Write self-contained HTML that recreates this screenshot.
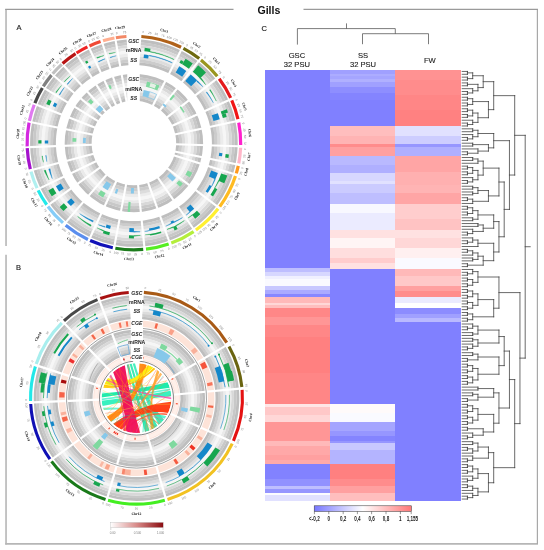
<!DOCTYPE html><html><head><meta charset="utf-8"><title>Gills</title><style>html,body{margin:0;padding:0;background:#fff}svg{display:block}text{font-family:"Liberation Sans",sans-serif;fill:#222}.chr{font-family:"Liberation Serif",serif;font-weight:bold;font-size:3.7px;text-anchor:middle;dominant-baseline:central;fill:#111}.tk{font-size:3px;text-anchor:middle;dominant-baseline:central;fill:#808080}.tl{font-size:5.1px;font-weight:bold;text-anchor:middle;fill:#222}.i{font-style:italic}.cl{font-size:7.6px;text-anchor:middle;fill:#1c1c1c;stroke:#1c1c1c;stroke-width:0.12px}.lg{font-family:"Liberation Sans",sans-serif;font-size:6.4px;font-weight:bold;text-anchor:middle;fill:#222}.pn{font-size:7.5px;fill:#1c1c1c;stroke:#1c1c1c;stroke-width:0.15px}</style></head><body>
<svg width="544" height="550" viewBox="0 0 544 550">
<defs><linearGradient id="lgB" x1="0" x2="1" y1="0" y2="0"><stop offset="0" stop-color="#fff"/><stop offset="0.5" stop-color="#d88a88"/><stop offset="1" stop-color="#8a0c10"/></linearGradient><linearGradient id="lgC" x1="0" x2="1" y1="0" y2="0"><stop offset="0" stop-color="#7878ff"/><stop offset="0.5" stop-color="#fff"/><stop offset="1" stop-color="#ff7878"/></linearGradient></defs>
<rect width="544" height="550" fill="#fff"/>
<path d="M6.05 9V246M6.05 254.8V544.6" fill="none" stroke="#c2c2c2" stroke-width="1.9"/>
<path d="M5.2 543.8H538" fill="none" stroke="#b6b6b6" stroke-width="1.7"/>
<path d="M537.4 9.4V544" fill="none" stroke="#a8a8a8" stroke-width="1.2"/>
<path d="M5.2 9.45H233.5M303.5 9.45H538" fill="none" stroke="#9a9a9a" stroke-width="1.3"/>
<text x="257.4" y="13.8" style="font-size:10.6px;font-weight:bold;fill:#111">Gills</text>
<text class="pn" x="16.6" y="29.8">A</text><text class="pn" x="16" y="270.3">B</text><text class="pn" x="261.4" y="30.9">C</text>
<g>
<path d="M141.14 39.5A103.8 103.8 0 1 1 126.66 39.5L126.87 42.51A100.78 100.78 0 1 0 140.93 42.51Z" fill="#bebebe"/>
<path d="M140.94 42.36A100.93 100.93 0 1 1 126.86 42.36L127.07 45.37A97.92 97.92 0 1 0 140.73 45.37Z" fill="#c8c8c8"/>
<path d="M140.74 45.22A98.07 98.07 0 1 1 127.06 45.22L127.27 48.23A95.05 95.05 0 1 0 140.53 48.23Z" fill="#d8d8d8"/>
<path d="M140.54 48.08A95.2 95.2 0 1 1 127.26 48.08L127.47 51.09A92.18 92.18 0 1 0 140.33 51.09Z" fill="#eaeaea"/>
<path d="M140.34 50.94A92.33 92.33 0 1 1 127.46 50.94L127.67 53.95A89.32 89.32 0 1 0 140.13 53.95Z" fill="#f6f6f6"/>
<path d="M140.14 53.8A89.47 89.47 0 1 1 127.66 53.8L127.87 56.81A86.45 86.45 0 1 0 139.93 56.81Z" fill="#ececec"/>
<path d="M139.94 56.66A86.6 86.6 0 1 1 127.86 56.66L128.07 59.67A83.58 83.58 0 1 0 139.73 59.67Z" fill="#dcdcdc"/>
<path d="M139.74 59.52A83.73 83.73 0 1 1 128.06 59.52L128.27 62.53A80.72 80.72 0 1 0 139.53 62.53Z" fill="#cccccc"/>
<path d="M139.54 62.38A80.87 80.87 0 1 1 128.26 62.38L128.46 65.24A78 78 0 1 0 139.34 65.24Z" fill="#bebebe"/>
<path d="M138.73 74.02A69.2 69.2 0 1 1 129.07 74.02L129.29 77.15A66.06 66.06 0 1 0 138.51 77.15Z" fill="#bebebe"/>
<path d="M138.52 77A66.21 66.21 0 1 1 129.28 77L129.5 80.13A63.07 63.07 0 1 0 138.3 80.13Z" fill="#c8c8c8"/>
<path d="M138.31 79.98A63.22 63.22 0 1 1 129.49 79.98L129.71 83.11A60.08 60.08 0 1 0 138.09 83.11Z" fill="#d8d8d8"/>
<path d="M138.1 82.96A60.23 60.23 0 1 1 129.7 82.96L129.92 86.09A57.09 57.09 0 1 0 137.88 86.09Z" fill="#eaeaea"/>
<path d="M137.89 85.95A57.24 57.24 0 1 1 129.91 85.95L130.13 89.08A54.11 54.11 0 1 0 137.67 89.08Z" fill="#f6f6f6"/>
<path d="M137.68 88.93A54.26 54.26 0 1 1 130.12 88.93L130.33 92.06A51.12 51.12 0 1 0 137.47 92.06Z" fill="#ececec"/>
<path d="M137.48 91.91A51.27 51.27 0 1 1 130.32 91.91L130.54 95.04A48.13 48.13 0 1 0 137.26 95.04Z" fill="#dcdcdc"/>
<path d="M137.27 94.89A48.28 48.28 0 1 1 130.53 94.89L130.75 98.02A45.14 45.14 0 1 0 137.05 98.02Z" fill="#cccccc"/>
<path d="M137.06 97.87A45.29 45.29 0 1 1 130.74 97.87L130.95 100.85A42.3 42.3 0 1 0 136.85 100.85Z" fill="#bebebe"/>
<path d="M141.46 34.91A108.4 108.4 0 0 1 181.76 45.79L180.35 48.66A105.2 105.2 0 0 0 141.24 38.11Z" fill="#b0621a"/>
<path d="M184.12 46.99A108.4 108.4 0 0 1 200.19 57.28L198.23 59.81A105.2 105.2 0 0 0 182.64 49.82Z" fill="#6e6a10"/>
<path d="M201.97 58.69A108.4 108.4 0 0 1 218.5 75.27L216 77.27A105.2 105.2 0 0 0 199.96 61.18Z" fill="#9a9620"/>
<path d="M220.47 77.81A108.4 108.4 0 0 1 232.14 97.24L229.24 98.59A105.2 105.2 0 0 0 217.92 79.74Z" fill="#e41a1c"/>
<path d="M233.23 99.65A108.4 108.4 0 0 1 239.52 118.67L236.4 119.39A105.2 105.2 0 0 0 230.3 100.93Z" fill="#f01515"/>
<path d="M240.31 122.37A108.4 108.4 0 0 1 242.28 144.94L239.08 144.89A105.2 105.2 0 0 0 237.17 122.98Z" fill="#ff22cc"/>
<path d="M242.2 147.78A108.4 108.4 0 0 1 240.31 163.73L237.17 163.12A105.2 105.2 0 0 0 239 147.64Z" fill="#ffb6c8"/>
<path d="M239.81 166.14A108.4 108.4 0 0 1 237.84 173.84L234.77 172.93A105.2 105.2 0 0 0 236.69 165.46Z" fill="#ff9a1e"/>
<path d="M236.99 176.55A108.4 108.4 0 0 1 221.04 207.53L218.47 205.63A105.2 105.2 0 0 0 233.95 175.56Z" fill="#ffbb22"/>
<path d="M219.32 209.79A108.4 108.4 0 0 1 196.85 231.3L194.99 228.69A105.2 105.2 0 0 0 216.8 207.82Z" fill="#fff030"/>
<path d="M194.52 232.92A108.4 108.4 0 0 1 171.86 244.59L170.74 241.59A105.2 105.2 0 0 0 192.73 230.26Z" fill="#b4ee3c"/>
<path d="M169.19 245.54A108.4 108.4 0 0 1 146.17 250.75L145.81 247.57A105.2 105.2 0 0 0 168.15 242.52Z" fill="#55ee22"/>
<path d="M143.35 251.04A108.4 108.4 0 0 1 115.08 249.8L115.63 246.65A105.2 105.2 0 0 0 143.07 247.85Z" fill="#1c7c1c"/>
<path d="M112.47 249.31A108.4 108.4 0 0 1 89.46 241.92L90.78 239.01A105.2 105.2 0 0 0 113.11 246.17Z" fill="#1212b8"/>
<path d="M87.23 240.89A108.4 108.4 0 0 1 64.66 226.45L66.7 223.99A105.2 105.2 0 0 0 88.61 238Z" fill="#5a8eee"/>
<path d="M61.93 224.11A108.4 108.4 0 0 1 46.65 207.38L49.23 205.48A105.2 105.2 0 0 0 64.05 221.72Z" fill="#86cdf8"/>
<path d="M45.43 205.69A108.4 108.4 0 0 1 36.72 191.08L39.59 189.66A105.2 105.2 0 0 0 48.04 203.84Z" fill="#22eaea"/>
<path d="M35.66 188.86A108.4 108.4 0 0 1 29.44 172.02L32.53 171.16A105.2 105.2 0 0 0 38.56 187.51Z" fill="#b0f0f0"/>
<path d="M28.77 169.46A108.4 108.4 0 0 1 25.62 148.16L28.82 148.01A105.2 105.2 0 0 0 31.87 168.68Z" fill="#a412cc"/>
<path d="M25.55 146.45A108.4 108.4 0 0 1 27.49 122.37L30.63 122.98A105.2 105.2 0 0 0 28.75 146.35Z" fill="#d428e0"/>
<path d="M27.87 120.51A108.4 108.4 0 0 1 32.7 104.2L35.69 105.35A105.2 105.2 0 0 0 31 121.18Z" fill="#e07af0"/>
<path d="M33.39 102.44A108.4 108.4 0 0 1 40.98 87.22L43.73 88.87A105.2 105.2 0 0 0 36.36 103.64Z" fill="#484848"/>
<path d="M41.97 85.61A108.4 108.4 0 0 1 50.26 74.1L52.73 76.13A105.2 105.2 0 0 0 44.69 87.3Z" fill="#808080"/>
<path d="M51.47 72.65A108.4 108.4 0 0 1 60.67 63.13L62.83 65.49A105.2 105.2 0 0 0 53.91 74.73Z" fill="#c0c0c0"/>
<path d="M61.51 62.37A108.4 108.4 0 0 1 74.7 52.24L76.45 54.92A105.2 105.2 0 0 0 63.64 64.75Z" fill="#b81414"/>
<path d="M75.66 51.63A108.4 108.4 0 0 1 86.72 45.46L88.11 48.34A105.2 105.2 0 0 0 77.38 54.33Z" fill="#ee2424"/>
<path d="M88.78 44.49A108.4 108.4 0 0 1 100.04 40.07L101.04 43.11A105.2 105.2 0 0 0 90.11 47.4Z" fill="#f04a36"/>
<path d="M102.57 39.28A108.4 108.4 0 0 1 114.15 36.47L114.73 39.61A105.2 105.2 0 0 0 103.49 42.34Z" fill="#ffae90"/>
<path d="M115.64 36.2A108.4 108.4 0 0 1 126.34 34.91L126.56 38.11A105.2 105.2 0 0 0 116.17 39.35Z" fill="#f28866"/>
<path d="M152.68 106.04L181.22 49.77" stroke="#fff" stroke-width="2.1"/>
<path d="M159.62 110.48L198.73 60.96" stroke="#fff" stroke-width="2.1"/>
<path d="M166.67 117.59L216.49 78.87" stroke="#fff" stroke-width="2.1"/>
<path d="M171.72 125.97L229.23 100.01" stroke="#fff" stroke-width="2.1"/>
<path d="M174.49 134.42L236.21 121.3" stroke="#fff" stroke-width="2.1"/>
<path d="M175.38 144.32L238.45 146.24" stroke="#fff" stroke-width="2.1"/>
<path d="M174.55 151.43L236.35 164.17" stroke="#fff" stroke-width="2.1"/>
<path d="M173.53 155.36L233.8 174.07" stroke="#fff" stroke-width="2.1"/>
<path d="M166.93 168.17L217.16 206.36" stroke="#fff" stroke-width="2.1"/>
<path d="M157.55 177.15L193.52 228.99" stroke="#fff" stroke-width="2.1"/>
<path d="M147.92 182.11L169.25 241.5" stroke="#fff" stroke-width="2.1"/>
<path d="M138.06 184.34L144.38 247.12" stroke="#fff" stroke-width="2.1"/>
<path d="M126.19 183.83L114.48 245.83" stroke="#fff" stroke-width="2.1"/>
<path d="M116.46 180.71L89.94 237.97" stroke="#fff" stroke-width="2.1"/>
<path d="M106.87 174.54L65.76 222.41" stroke="#fff" stroke-width="2.1"/>
<path d="M100.26 167.36L49.12 204.31" stroke="#fff" stroke-width="2.1"/>
<path d="M96.49 161.01L39.61 188.33" stroke="#fff" stroke-width="2.1"/>
<path d="M93.78 153.65L32.77 169.77" stroke="#fff" stroke-width="2.1"/>
<path d="M92.43 144.68L29.38 147.16" stroke="#fff" stroke-width="2.1"/>
<path d="M93.23 134.78L31.4 122.2" stroke="#fff" stroke-width="2.1"/>
<path d="M95.29 127.84L36.58 104.71" stroke="#fff" stroke-width="2.1"/>
<path d="M98.52 121.37L44.71 88.4" stroke="#fff" stroke-width="2.1"/>
<path d="M102.11 116.37L53.77 75.81" stroke="#fff" stroke-width="2.1"/>
<path d="M106.02 112.31L63.64 65.56" stroke="#fff" stroke-width="2.1"/>
<path d="M111.42 108.17L77.24 55.13" stroke="#fff" stroke-width="2.1"/>
<path d="M116.23 105.5L89.36 48.41" stroke="#fff" stroke-width="2.1"/>
<path d="M121.42 103.47L102.45 43.29" stroke="#fff" stroke-width="2.1"/>
<path d="M126.62 102.19L115.56 40.07" stroke="#fff" stroke-width="2.1"/>
<path d="M144.74 47.87A95.8 95.8 0 0 1 150.54 48.71L149.95 52.05A92.4 92.4 0 0 0 144.36 51.24Z" fill="#17a64f"/>
<path d="M180.88 60.02A95.4 95.4 0 0 1 183.75 61.71L182.18 64.27A92.4 92.4 0 0 0 179.4 62.63Z" fill="#17a64f"/>
<path d="M185.58 58.72A98.9 98.9 0 0 1 192.73 63.55L188.86 68.77A92.4 92.4 0 0 0 182.18 64.27Z" fill="#17a64f"/>
<path d="M198.22 65.31A100.9 100.9 0 0 1 205.99 72.45L199.92 78.4A92.4 92.4 0 0 0 192.8 71.85Z" fill="#17a64f"/>
<path d="M226.84 109.22A98.9 98.9 0 0 1 227.96 112.49L221.78 114.5A92.4 92.4 0 0 0 220.73 111.45Z" fill="#17a64f"/>
<path d="M225.58 113.26A96.4 96.4 0 0 1 226.7 116.96L222.85 118.05A92.4 92.4 0 0 0 221.78 114.5Z" fill="#17a64f"/>
<path d="M228.93 154.38A95.7 95.7 0 0 1 228.42 158.02L225.16 157.5A92.4 92.4 0 0 0 225.65 153.99Z" fill="#17a64f"/>
<path d="M227.3 175.57A98.9 98.9 0 0 1 224.25 183.28L218.31 180.63A92.4 92.4 0 0 0 221.16 173.44Z" fill="#17a64f"/>
<path d="M217.34 189.3A95.4 95.4 0 0 1 212.99 196.4L210.5 194.72A92.4 92.4 0 0 0 214.71 187.85Z" fill="#17a64f"/>
<path d="M200.33 214.28A97.4 97.4 0 0 1 195.2 218.74L192.05 214.86A92.4 92.4 0 0 0 196.92 210.63Z" fill="#17a64f"/>
<path d="M177.66 228.94A96.4 96.4 0 0 1 174.64 230.42L172.95 226.79A92.4 92.4 0 0 0 175.85 225.38Z" fill="#17a64f"/>
<path d="M161.38 232.94A94 94 0 0 1 150.22 235.62L149.95 234.05A92.4 92.4 0 0 0 160.92 231.41Z" fill="#17a64f"/>
<path d="M133.9 238.45A95.4 95.4 0 0 1 128.91 238.32L129.06 235.32A92.4 92.4 0 0 0 133.9 235.45Z" fill="#17a64f"/>
<path d="M109.21 235.2A95.4 95.4 0 0 1 102.84 233.25L103.82 230.42A92.4 92.4 0 0 0 109.99 232.3Z" fill="#17a64f"/>
<path d="M63.48 211.06A97.9 97.9 0 0 1 59.68 206.89L63.85 203.3A92.4 92.4 0 0 0 67.43 207.24Z" fill="#17a64f"/>
<path d="M51.79 196.37A97.9 97.9 0 0 1 48.27 190.51L53.09 187.85A92.4 92.4 0 0 0 56.41 193.37Z" fill="#17a64f"/>
<path d="M38.3 143.55A95.6 95.6 0 0 1 38.34 140.21L41.54 140.31A92.4 92.4 0 0 0 41.5 143.53Z" fill="#17a64f"/>
<path d="M46.29 104.04A95.9 95.9 0 0 1 48.45 99.51L51.57 101.1A92.4 92.4 0 0 0 49.49 105.47Z" fill="#17a64f"/>
<path d="M85.02 61.7A94.9 94.9 0 0 1 87.17 60.45L88.4 62.63A92.4 92.4 0 0 0 86.31 63.85Z" fill="#17a64f"/>
<path d="M143.99 54.52A89.1 89.1 0 0 1 148.76 55.2L148.19 58.55A85.7 85.7 0 0 0 143.6 57.9Z" fill="#1487c9"/>
<path d="M179.26 66.36A89.1 89.1 0 0 1 186.27 70.97L182.16 76.63A82.1 82.1 0 0 0 175.69 72.38Z" fill="#1487c9"/>
<path d="M190.69 74.4A89.1 89.1 0 0 1 197.12 80.27L191.09 86.26A80.6 80.6 0 0 0 185.28 80.95Z" fill="#1487c9"/>
<path d="M217.84 113.16A89.1 89.1 0 0 1 219.76 119.24L213.5 120.98A82.6 82.6 0 0 0 211.71 115.34Z" fill="#1487c9"/>
<path d="M222.43 153.14A89.1 89.1 0 0 1 222 156.37L218.83 155.9A85.9 85.9 0 0 0 219.25 152.77Z" fill="#1487c9"/>
<path d="M217.84 172.94A89.1 89.1 0 0 1 215.3 179.29L208.9 176.44A82.1 82.1 0 0 0 211.24 170.59Z" fill="#1487c9"/>
<path d="M211.83 186.25A89.1 89.1 0 0 1 207.77 192.87L205.61 191.42A86.5 86.5 0 0 0 209.55 184.99Z" fill="#1487c9"/>
<path d="M194.21 208.64A89.1 89.1 0 0 1 189.97 212.29L186.51 208.02A83.6 83.6 0 0 0 190.49 204.59Z" fill="#1487c9"/>
<path d="M174.35 222.44A89.1 89.1 0 0 1 171.56 223.8L170.5 221.54A86.6 86.6 0 0 0 173.22 220.21Z" fill="#1487c9"/>
<path d="M159.95 228.26A89.1 89.1 0 0 1 149.37 230.8L148.96 228.43A86.7 86.7 0 0 0 159.25 225.96Z" fill="#1487c9"/>
<path d="M133.9 232.15A89.1 89.1 0 0 1 129.24 232.03L129.45 228.03A85.1 85.1 0 0 0 133.9 228.15Z" fill="#1487c9"/>
<path d="M110.09 228.91A89.1 89.1 0 0 1 105.63 227.55L106.64 224.51A85.9 85.9 0 0 0 110.94 225.83Z" fill="#1487c9"/>
<path d="M70.9 206.05A89.1 89.1 0 0 1 67.07 201.97L71.19 198.34A83.6 83.6 0 0 0 74.79 202.16Z" fill="#1487c9"/>
<path d="M59.17 191.58A89.1 89.1 0 0 1 55.97 186.25L60.78 183.58A83.6 83.6 0 0 0 63.79 188.58Z" fill="#1487c9"/>
<path d="M44.8 143.52A89.1 89.1 0 0 1 44.84 140.41L48.24 140.51A85.7 85.7 0 0 0 48.2 143.5Z" fill="#1487c9"/>
<path d="M52.82 106.1A89.1 89.1 0 0 1 54.51 102.6L57.18 103.96A86.1 86.1 0 0 0 55.55 107.34Z" fill="#1487c9"/>
<path d="M88.01 66.68A89.1 89.1 0 0 1 90.03 65.5L91.26 67.68A86.6 86.6 0 0 0 89.3 68.82Z" fill="#1487c9"/>
<path d="M149.95 52.05L152.4 52.52L154.84 53.05L157.27 53.65L159.68 54.32L162.07 55.05L164.44 55.84L166.79 56.7L169.11 57.62L171.41 58.61L173.68 59.65L173.85 59.29L171.58 58.22L169.28 57.21L166.95 56.27L164.6 55.39L162.22 54.58L159.82 53.83L157.4 53.14L154.97 52.52L152.51 51.97L150.05 51.48Z" fill="#17a64f" stroke="#17a64f" stroke-width="0.3"/>
<path d="M149.37 55.3L151.74 55.75L154.09 56.27L156.43 56.85L158.76 57.49L161.06 58.19L163.35 58.96L165.61 59.78L167.85 60.67L170.07 61.62L172.26 62.63L172.08 63L169.9 62.01L167.69 61.08L165.45 60.21L163.19 59.41L160.91 58.66L158.61 57.98L156.3 57.36L153.97 56.8L151.63 56.31L149.27 55.88Z" fill="#1487c9" stroke="#1487c9" stroke-width="0.3"/>
<path d="M199.92 78.4L201.84 80.43L203.71 82.51L205.5 84.65L205.61 84.57L204.09 82.18L202.49 79.83L200.82 77.52Z" fill="#17a64f" stroke="#17a64f" stroke-width="0.3"/>
<path d="M197.56 80.71L199.42 82.66L201.21 84.67L202.95 86.74L202.84 86.82L200.83 85.01L198.77 83.26L196.66 81.59Z" fill="#1487c9" stroke="#1487c9" stroke-width="0.3"/>
<path d="M209.59 90.05L211.04 92.19L212.43 94.36L213.76 96.57L215.03 98.82L216.23 101.1L216.31 101.06L215.23 98.71L214.09 96.38L212.87 94.08L211.6 91.82L210.25 89.59Z" fill="#17a64f" stroke="#17a64f" stroke-width="0.3"/>
<path d="M206.89 91.94L208.28 94L209.63 96.1L210.91 98.23L212.13 100.4L213.29 102.6L213.21 102.64L211.92 100.51L210.58 98.42L209.18 96.37L207.73 94.37L206.22 92.41Z" fill="#1487c9" stroke="#1487c9" stroke-width="0.3"/>
<path d="M218.31 180.63L217.18 183.07L215.98 185.48L214.71 187.85L214.87 187.93L216.33 185.66L217.72 183.33L219.05 180.96Z" fill="#17a64f" stroke="#17a64f" stroke-width="0.3"/>
<path d="M215.3 179.29L214.21 181.64L213.05 183.96L211.83 186.25L211.67 186.16L212.71 183.78L213.67 181.38L214.56 178.96Z" fill="#1487c9" stroke="#1487c9" stroke-width="0.3"/>
<path d="M192.05 214.86L190.15 216.36L188.21 217.8L188.26 217.88L190.36 216.62L192.42 215.31Z" fill="#17a64f" stroke="#17a64f" stroke-width="0.3"/>
<path d="M189.97 212.29L188.14 213.74L186.27 215.13L186.22 215.06L187.94 213.47L189.6 211.84Z" fill="#1487c9" stroke="#1487c9" stroke-width="0.3"/>
<path d="M184.22 220.54L182.18 221.83L180.1 223.07L177.99 224.25L175.85 225.38L176.22 226.1L178.3 224.83L180.35 223.5L182.36 222.12L184.32 220.69Z" fill="#17a64f" stroke="#17a64f" stroke-width="0.3"/>
<path d="M182.43 217.78L180.45 219.02L178.45 220.21L176.41 221.35L174.35 222.44L173.98 221.72L176.1 220.78L178.2 219.78L180.28 218.73L182.33 217.62Z" fill="#1487c9" stroke="#1487c9" stroke-width="0.3"/>
<path d="M172.95 226.79L170 228.1L167.01 229.31L167.05 229.4L170.18 228.52L173.29 227.53Z" fill="#17a64f" stroke="#17a64f" stroke-width="0.3"/>
<path d="M171.56 223.8L168.71 225.07L165.83 226.23L165.8 226.15L168.54 224.65L171.21 223.07Z" fill="#1487c9" stroke="#1487c9" stroke-width="0.3"/>
<path d="M149.95 234.05L147.56 234.44L145.16 234.76L145.17 234.85L147.59 234.66L150.01 234.4Z" fill="#17a64f" stroke="#17a64f" stroke-width="0.3"/>
<path d="M149.37 230.8L147.07 231.17L144.76 231.49L144.75 231.4L147.04 230.95L149.31 230.44Z" fill="#1487c9" stroke="#1487c9" stroke-width="0.3"/>
<path d="M140.35 235.22L137.12 235.39L133.9 235.45L133.9 236.26L137.14 235.89L140.36 235.4Z" fill="#17a64f" stroke="#17a64f" stroke-width="0.3"/>
<path d="M140.12 231.93L137.01 232.1L133.9 232.15L133.9 231.34L136.99 231.6L140.1 231.75Z" fill="#1487c9" stroke="#1487c9" stroke-width="0.3"/>
<path d="M103.82 230.42L101.54 229.6L99.29 228.72L97.06 227.79L97.02 227.87L99.16 229.03L101.34 230.13L103.55 231.18Z" fill="#17a64f" stroke="#17a64f" stroke-width="0.3"/>
<path d="M104.89 227.3L102.7 226.51L100.52 225.66L98.37 224.76L98.41 224.68L100.65 225.36L102.9 225.97L105.16 226.53Z" fill="#1487c9" stroke="#1487c9" stroke-width="0.3"/>
<path d="M91.23 225.01L88.87 223.73L86.54 222.39L84.25 220.98L82.01 219.5L79.81 217.96L77.65 216.36L77.6 216.43L79.62 218.22L81.7 219.96L83.83 221.64L86.02 223.27L88.26 224.83L90.55 226.33Z" fill="#17a64f" stroke="#17a64f" stroke-width="0.3"/>
<path d="M92.76 222.08L90.48 220.85L88.23 219.56L86.03 218.2L83.86 216.77L81.74 215.29L79.66 213.74L79.71 213.67L81.93 215.02L84.17 216.31L86.45 217.53L88.76 218.68L91.09 219.76L93.44 220.77Z" fill="#1487c9" stroke="#1487c9" stroke-width="0.3"/>
<path d="M49.16 179.89L48.15 177.48L47.21 175.03L46.34 172.56L45.54 170.07L44.07 170.51L45.23 172.93L46.45 175.31L47.74 177.64L49.08 179.93Z" fill="#17a64f" stroke="#17a64f" stroke-width="0.3"/>
<path d="M52.19 178.58L51.22 176.25L50.31 173.89L49.47 171.51L48.69 169.1L50.16 168.65L50.57 171.13L51.07 173.61L51.63 176.08L52.27 178.54Z" fill="#1487c9" stroke="#1487c9" stroke-width="0.3"/>
<path d="M43.52 162.26L42.9 159.1L42.4 155.91L41.91 155.98L42.62 159.15L43.43 162.28Z" fill="#17a64f" stroke="#17a64f" stroke-width="0.3"/>
<path d="M46.75 161.57L46.15 158.52L45.67 155.45L46.16 155.38L46.44 158.47L46.84 161.56Z" fill="#1487c9" stroke="#1487c9" stroke-width="0.3"/>
<path d="M56.41 92.73L58.06 90.27L59.78 87.87L61.59 85.53L61.52 85.47L59.52 87.68L57.59 89.95L55.73 92.28Z" fill="#17a64f" stroke="#17a64f" stroke-width="0.3"/>
<path d="M59.17 94.52L60.77 92.16L62.43 89.84L64.17 87.58L64.24 87.64L62.7 90.04L61.23 92.48L59.85 94.96Z" fill="#1487c9" stroke="#1487c9" stroke-width="0.3"/>
<path d="M64.7 81.82L66.51 79.84L68.37 77.9L70.3 76.03L70.23 75.96L68.19 77.72L66.2 79.55L64.26 81.44Z" fill="#17a64f" stroke="#17a64f" stroke-width="0.3"/>
<path d="M67.17 84.01L68.91 82.09L70.71 80.23L72.57 78.42L72.63 78.48L70.89 80.41L69.22 82.38L67.61 84.4Z" fill="#1487c9" stroke="#1487c9" stroke-width="0.3"/>
<path d="M97.06 58.31L99.29 57.38L101.54 56.5L103.82 55.68L103.77 55.56L101.41 56.16L99.07 56.84L96.73 57.57Z" fill="#17a64f" stroke="#17a64f" stroke-width="0.3"/>
<path d="M98.37 61.34L100.52 60.44L102.7 59.59L104.89 58.8L104.94 58.93L102.82 59.93L100.74 60.98L98.69 62.08Z" fill="#1487c9" stroke="#1487c9" stroke-width="0.3"/>
<path d="M109.21 54.01L112.33 53.2L115.48 52.5L115.46 52.42L112.26 52.9L109.06 53.49Z" fill="#17a64f" stroke="#17a64f" stroke-width="0.3"/>
<path d="M110.09 57.19L113.1 56.41L116.14 55.74L116.15 55.83L113.17 56.72L110.23 57.71Z" fill="#1487c9" stroke="#1487c9" stroke-width="0.3"/>
<path d="M147 81.43A63 63 0 0 1 159.52 85.5L157.29 90.52A57.5 57.5 0 0 0 145.85 86.81Z" fill="#7fd99f"/>
<path d="M173.23 94.48A62.5 62.5 0 0 1 174.9 95.88L170.97 100.41A56.5 56.5 0 0 0 169.46 99.14Z" fill="#7fd99f"/>
<path d="M180.87 106.36A59.6 59.6 0 0 1 184.72 111.91L183.35 112.75A58 58 0 0 0 179.6 107.34Z" fill="#7fd99f"/>
<path d="M192.26 172.79A65.5 65.5 0 0 1 189.75 177.27L185.48 174.66A60.5 60.5 0 0 0 187.81 170.52Z" fill="#7fd99f"/>
<path d="M182.9 183.44A63.5 63.5 0 0 1 179.96 186.76L176.33 183.32A58.5 58.5 0 0 0 179.04 180.26Z" fill="#7fd99f"/>
<path d="M130.05 211.94A69 69 0 0 1 127.65 211.77L128.55 201.81A59 59 0 0 0 130.61 201.96Z" fill="#7fd99f"/>
<path d="M103.12 197.45A62.5 62.5 0 0 1 98.05 194.25L100.92 190.15A57.5 57.5 0 0 0 105.59 193.1Z" fill="#7fd99f"/>
<path d="M72.42 141.65A61.5 61.5 0 0 1 72.62 137.9L76.4 138.22A57.7 57.7 0 0 0 76.21 141.74Z" fill="#7fd99f"/>
<path d="M87.97 101.7A61.8 61.8 0 0 1 90.58 98.97L93.6 102.04A57.5 57.5 0 0 0 91.17 104.57Z" fill="#7fd99f"/>
<path d="M108.28 85.5A63 63 0 0 1 110.3 84.64L111.8 88.35A59 59 0 0 0 109.9 89.15Z" fill="#7fd99f"/>
<path d="M143.74 89.95A54 54 0 0 1 149.69 91.41L147.79 97.63A47.5 47.5 0 0 0 142.56 96.35Z" fill="#86c8ea"/>
<path d="M175.95 177.72A54.5 54.5 0 0 1 172.44 181.59L167.13 176.28A47 47 0 0 0 170.17 172.95Z" fill="#86c8ea"/>
<path d="M133.9 193.55A50.5 50.5 0 0 1 130.82 193.46L131.15 187.97A45 45 0 0 0 133.9 188.05Z" fill="#86c8ea"/>
<path d="M116.92 193.79A53.5 53.5 0 0 1 114.73 193L116.34 188.8A49 49 0 0 0 118.35 189.52Z" fill="#86c8ea"/>
<path d="M107.72 190.28A54 54 0 0 1 102.54 187.01L106.61 181.31A47 47 0 0 0 111.11 184.16Z" fill="#86c8ea"/>
<path d="M82.9 143.05A51 51 0 0 1 83.18 137.72L85.96 138.01A48.2 48.2 0 0 0 85.7 143.05Z" fill="#86c8ea"/>
<path d="M95.7 109.26A51 51 0 0 1 99.77 105.15L103.45 109.24A45.5 45.5 0 0 0 99.82 112.9Z" fill="#86c8ea"/>
<path d="M163.69 103.52A49.5 49.5 0 0 1 166.7 105.98L165.37 107.47A47.5 47.5 0 0 0 162.49 105.11Z" fill="#86c8ea"/>
<path d="M150.52 83.11A62.2 62.2 0 0 1 156.19 84.98L154.79 88.62A58.3 58.3 0 0 0 149.48 86.87Z" fill="#e6efe6"/>
<path d="M149.6 91.7A53.7 53.7 0 0 1 156.59 94.38L154.1 99.73A47.8 47.8 0 0 0 147.88 97.34Z" fill="none" stroke="#86c8ea" stroke-width="0.7"/>
<text class="chr" transform="translate(164.17 30.86) rotate(15.1)">Chr1</text>
<text class="tk" transform="translate(143.21 32.14) rotate(4.8)">0</text>
<text class="tk" transform="translate(149.84 32.9) rotate(8.23)">25</text>
<text class="tk" transform="translate(156.41 34.05) rotate(11.67)">50</text>
<text class="tk" transform="translate(162.89 35.59) rotate(15.1)">75</text>
<text class="tk" transform="translate(169.28 37.52) rotate(18.53)">100</text>
<text class="tk" transform="translate(175.53 39.83) rotate(21.97)">125</text>
<text class="tk" transform="translate(181.64 42.51) rotate(25.4)">150</text>
<text class="chr" transform="translate(196.59 45.21) rotate(32.65)">Chr2</text>
<text class="tk" transform="translate(186.84 45.15) rotate(28.4)">0</text>
<text class="tk" transform="translate(191.61 47.88) rotate(31.23)">25</text>
<text class="tk" transform="translate(196.25 50.85) rotate(34.07)">50</text>
<text class="tk" transform="translate(200.73 54.05) rotate(36.9)">75</text>
<text class="chr" transform="translate(216.21 61.03) rotate(45.1)">Chr3</text>
<text class="tk" transform="translate(204.99 57.42) rotate(39.7)">0</text>
<text class="tk" transform="translate(210.23 62.05) rotate(43.3)">25</text>
<text class="tk" transform="translate(215.17 67) rotate(46.9)">50</text>
<text class="tk" transform="translate(219.78 72.25) rotate(50.5)">75</text>
<text class="chr" transform="translate(233.5 83.2) rotate(59)">Chr4</text>
<text class="tk" transform="translate(223.71 77.32) rotate(53.8)">0</text>
<text class="tk" transform="translate(227.53 82.87) rotate(57.27)">25</text>
<text class="tk" transform="translate(230.99 88.64) rotate(60.73)">50</text>
<text class="tk" transform="translate(234.11 94.61) rotate(64.2)">75</text>
<text class="chr" transform="translate(244.22 106.56) rotate(71.7)">Chr5</text>
<text class="tk" transform="translate(236.5 99.92) rotate(67.2)">0</text>
<text class="tk" transform="translate(238.62 105.35) rotate(70.2)">25</text>
<text class="tk" transform="translate(240.45 110.88) rotate(73.2)">50</text>
<text class="tk" transform="translate(241.99 116.5) rotate(76.2)">75</text>
<text class="chr" transform="translate(249.66 132.92) rotate(85)">Chr6</text>
<text class="tk" transform="translate(243.44 123.34) rotate(79.8)">0</text>
<text class="tk" transform="translate(244.43 130) rotate(83.27)">25</text>
<text class="tk" transform="translate(245.02 136.71) rotate(86.73)">50</text>
<text class="tk" transform="translate(245.2 143.44) rotate(270.2)">75</text>
<text class="chr" transform="translate(249.29 156.71) rotate(276.75)">Chr7</text>
<text class="tk" transform="translate(245.02 149.46) rotate(273.3)">0</text>
<text class="tk" transform="translate(244.43 156.13) rotate(276.75)">25</text>
<text class="tk" transform="translate(243.44 162.76) rotate(280.2)">50</text>
<text class="chr" transform="translate(246.45 171.95) rotate(284.4)">Chr8</text>
<text class="tk" transform="translate(242.3 168.28) rotate(283.1)">0</text>
<text class="tk" transform="translate(241.05 173.17) rotate(285.7)">25</text>
<text class="chr" transform="translate(237.2 196.25) rotate(297.25)">Chr9</text>
<text class="tk" transform="translate(239.26 178.92) rotate(288.8)">0</text>
<text class="tk" transform="translate(236.96 185.07) rotate(292.18)">25</text>
<text class="tk" transform="translate(234.31 191.07) rotate(295.56)">50</text>
<text class="tk" transform="translate(231.3 196.91) rotate(298.94)">75</text>
<text class="tk" transform="translate(227.96 202.56) rotate(302.32)">100</text>
<text class="tk" transform="translate(224.28 208) rotate(305.7)">125</text>
<text class="chr" transform="translate(214.25 226.99) rotate(316.25)">Chr10</text>
<text class="tk" transform="translate(220.64 212.79) rotate(308.8)">0</text>
<text class="tk" transform="translate(216.9 217.21) rotate(311.78)">25</text>
<text class="tk" transform="translate(212.93 221.42) rotate(314.76)">50</text>
<text class="tk" transform="translate(208.75 225.42) rotate(317.74)">75</text>
<text class="tk" transform="translate(204.37 229.2) rotate(320.72)">100</text>
<text class="tk" transform="translate(199.79 232.75) rotate(323.7)">125</text>
<text class="chr" transform="translate(187.1 246.35) rotate(332.75)">Chr11</text>
<text class="tk" transform="translate(194.84 236.18) rotate(326.8)">0</text>
<text class="tk" transform="translate(189.93 239.22) rotate(329.77)">25</text>
<text class="tk" transform="translate(184.86 242) rotate(332.75)">50</text>
<text class="tk" transform="translate(179.66 244.51) rotate(335.73)">75</text>
<text class="tk" transform="translate(174.33 246.75) rotate(338.7)">100</text>
<text class="chr" transform="translate(159.55 256.38) rotate(347.25)">Chr12</text>
<text class="tk" transform="translate(168.66 248.78) rotate(341.8)">0</text>
<text class="tk" transform="translate(161.89 250.77) rotate(345.43)">25</text>
<text class="tk" transform="translate(155.01 252.33) rotate(349.07)">50</text>
<text class="tk" transform="translate(148.04 253.45) rotate(352.7)">75</text>
<text class="chr" transform="translate(128.83 259.14) rotate(362.5)">Chr13</text>
<text class="tk" transform="translate(142.05 254.05) rotate(355.8)">0</text>
<text class="tk" transform="translate(135.55 254.34) rotate(359.15)">25</text>
<text class="tk" transform="translate(129.05 254.24) rotate(362.5)">50</text>
<text class="tk" transform="translate(122.56 253.77) rotate(365.85)">75</text>
<text class="tk" transform="translate(116.11 252.92) rotate(369.2)">100</text>
<text class="chr" transform="translate(98.38 253.69) rotate(377.8)">Chr14</text>
<text class="tk" transform="translate(110.38 251.84) rotate(372.2)">0</text>
<text class="tk" transform="translate(103.35 250.07) rotate(375.93)">25</text>
<text class="tk" transform="translate(96.44 247.86) rotate(379.67)">50</text>
<text class="tk" transform="translate(89.7 245.2) rotate(383.4)">75</text>
<text class="chr" transform="translate(71.29 240.94) rotate(392.6)">Chr15</text>
<text class="tk" transform="translate(84.59 242.83) rotate(386.3)">0</text>
<text class="tk" transform="translate(79.18 239.97) rotate(389.45)">25</text>
<text class="tk" transform="translate(73.93 236.81) rotate(392.6)">50</text>
<text class="tk" transform="translate(68.87 233.38) rotate(395.75)">75</text>
<text class="tk" transform="translate(64.01 229.67) rotate(398.9)">100</text>
<text class="chr" transform="translate(48.09 221.4) rotate(407.6)">Chr16</text>
<text class="tk" transform="translate(58.85 225.24) rotate(402.4)">0</text>
<text class="tk" transform="translate(54.02 220.55) rotate(405.87)">25</text>
<text class="tk" transform="translate(49.48 215.58) rotate(409.33)">50</text>
<text class="tk" transform="translate(45.25 210.34) rotate(412.8)">75</text>
<text class="chr" transform="translate(34.09 202.55) rotate(419.2)">Chr17</text>
<text class="tk" transform="translate(42.17 206.09) rotate(415.5)">0</text>
<text class="tk" transform="translate(38.3 200.04) rotate(419.2)">25</text>
<text class="tk" transform="translate(34.82 193.75) rotate(422.9)">50</text>
<text class="chr" transform="translate(24.88 183.27) rotate(429.75)">Chr18</text>
<text class="tk" transform="translate(32.38 188.67) rotate(425.8)">0</text>
<text class="tk" transform="translate(29.48 181.57) rotate(429.75)">25</text>
<text class="tk" transform="translate(27.07 174.29) rotate(433.7)">50</text>
<text class="chr" transform="translate(18.95 160.02) rotate(441.6)">Chr19</text>
<text class="tk" transform="translate(25.59 168.65) rotate(436.7)">0</text>
<text class="tk" transform="translate(24.3 162.44) rotate(439.97)">25</text>
<text class="tk" transform="translate(23.38 156.16) rotate(443.23)">50</text>
<text class="tk" transform="translate(22.81 149.84) rotate(446.5)">75</text>
<text class="chr" transform="translate(18.07 133.73) rotate(274.6)">Chr20</text>
<text class="tk" transform="translate(22.62 144.99) rotate(449)">0</text>
<text class="tk" transform="translate(22.65 139.55) rotate(271.8)">25</text>
<text class="tk" transform="translate(22.96 134.12) rotate(274.6)">50</text>
<text class="tk" transform="translate(23.53 128.72) rotate(277.4)">75</text>
<text class="tk" transform="translate(24.36 123.34) rotate(280.2)">100</text>
<text class="chr" transform="translate(22.49 110.05) rotate(286.5)">Chr21</text>
<text class="tk" transform="translate(25.37 118.39) rotate(282.8)">0</text>
<text class="tk" transform="translate(27.18 111.44) rotate(286.5)">25</text>
<text class="tk" transform="translate(29.45 104.62) rotate(290.2)">50</text>
<text class="chr" transform="translate(29.91 91.2) rotate(296.5)">Chr22</text>
<text class="tk" transform="translate(31.3 99.92) rotate(292.8)">0</text>
<text class="tk" transform="translate(34.29 93.39) rotate(296.5)">25</text>
<text class="tk" transform="translate(37.71 87.06) rotate(300.2)">50</text>
<text class="chr" transform="translate(39.6 75.16) rotate(305.75)">Chr23</text>
<text class="tk" transform="translate(40.34 82.76) rotate(302.8)">0</text>
<text class="tk" transform="translate(43.57 78.02) rotate(305.75)">25</text>
<text class="tk" transform="translate(47.04 73.46) rotate(308.7)">50</text>
<text class="chr" transform="translate(50.31 62.33) rotate(314)">Chr24</text>
<text class="tk" transform="translate(50.28 69.59) rotate(311.3)">0</text>
<text class="tk" transform="translate(53.84 65.73) rotate(314)">25</text>
<text class="tk" transform="translate(57.57 62.05) rotate(316.7)">50</text>
<text class="chr" transform="translate(63.16 50.86) rotate(322.5)">Chr25</text>
<text class="tk" transform="translate(60.73 59.18) rotate(318.9)">0</text>
<text class="tk" transform="translate(66.14 54.75) rotate(322.5)">25</text>
<text class="tk" transform="translate(71.82 50.67) rotate(326.1)">50</text>
<text class="chr" transform="translate(77.3 41.57) rotate(330.85)">Chr26</text>
<text class="tk" transform="translate(75.42 48.35) rotate(328.3)">0</text>
<text class="tk" transform="translate(79.69 45.85) rotate(330.85)">25</text>
<text class="tk" transform="translate(84.06 43.53) rotate(333.4)">50</text>
<text class="chr" transform="translate(91.5 34.86) rotate(338.6)">Chr27</text>
<text class="tk" transform="translate(88.99 41.21) rotate(336.2)">0</text>
<text class="tk" transform="translate(93.29 39.42) rotate(338.6)">25</text>
<text class="tk" transform="translate(97.66 37.81) rotate(341)">50</text>
<text class="chr" transform="translate(106.48 30.13) rotate(346.35)">Chr28</text>
<text class="tk" transform="translate(103.22 36.06) rotate(344)">0</text>
<text class="tk" transform="translate(112.09 33.91) rotate(348.7)">25</text>
<text class="chr" transform="translate(120.04 27.68) rotate(353.15)">Chr29</text>
<text class="tk" transform="translate(116.68 33.09) rotate(351.1)">0</text>
<text class="tk" transform="translate(124.59 32.14) rotate(355.2)">25</text>
</g>
<rect x="127.2" y="74" width="12.6" height="29" fill="#fff"/>
<text class="tl i" x="133.7" y="43.3">GSC</text>
<text class="tl" x="133.7" y="52.4">mRNA</text>
<text class="tl i" x="133.7" y="61.8">SS</text>
<text class="tl i" x="133.7" y="81.4">GSC</text>
<text class="tl" x="133.7" y="90.7">miRNA</text>
<text class="tl i" x="133.7" y="99.7">SS</text>
<g>
<path d="M143.67 295.55A102.8 102.8 0 1 1 128.97 295.58L129.18 298.36A100.01 100.01 0 1 0 143.48 298.34Z" fill="#bebebe"/>
<path d="M143.49 298.19A100.16 100.16 0 1 1 129.16 298.21L129.37 301A97.36 97.36 0 1 0 143.29 300.98Z" fill="#c8c8c8"/>
<path d="M143.3 300.83A97.51 97.51 0 1 1 129.36 300.85L129.56 303.64A94.72 94.72 0 1 0 143.11 303.61Z" fill="#d8d8d8"/>
<path d="M143.12 303.46A94.87 94.87 0 1 1 129.55 303.49L129.76 306.28A92.07 92.07 0 1 0 142.92 306.25Z" fill="#eaeaea"/>
<path d="M142.93 306.1A92.22 92.22 0 1 1 129.75 306.13L129.95 308.91A89.43 89.43 0 1 0 142.74 308.89Z" fill="#f6f6f6"/>
<path d="M142.75 308.74A89.58 89.58 0 1 1 129.94 308.76L130.14 311.55A86.78 86.78 0 1 0 142.55 311.53Z" fill="#ececec"/>
<path d="M142.56 311.38A86.93 86.93 0 1 1 130.13 311.4L130.34 314.19A84.14 84.14 0 1 0 142.37 314.17Z" fill="#dcdcdc"/>
<path d="M142.38 314.02A84.29 84.29 0 1 1 130.33 314.04L130.53 316.82A81.49 81.49 0 1 0 142.18 316.8Z" fill="#cccccc"/>
<path d="M142.2 316.65A81.64 81.64 0 1 1 130.52 316.67L130.71 319.31A79 79 0 1 0 142.01 319.29Z" fill="#bebebe"/>
<path d="M141.93 320.39A77.9 77.9 0 1 1 130.79 320.41L131.27 326.89A71.4 71.4 0 1 0 141.48 326.87Z" fill="#fde3d8"/>
<path d="M141.29 329.67A68.6 68.6 0 1 1 131.48 329.68L131.69 332.56A65.72 65.72 0 1 0 141.08 332.54Z" fill="#bebebe"/>
<path d="M141.09 332.39A65.87 65.87 0 1 1 131.68 332.41L131.89 335.29A62.98 62.98 0 1 0 140.89 335.27Z" fill="#c8c8c8"/>
<path d="M140.9 335.12A63.13 63.13 0 1 1 131.88 335.14L132.09 338.01A60.25 60.25 0 1 0 140.7 338Z" fill="#d8d8d8"/>
<path d="M140.71 337.85A60.4 60.4 0 1 1 132.08 337.86L132.29 340.74A57.52 57.52 0 1 0 140.51 340.72Z" fill="#eaeaea"/>
<path d="M140.52 340.57A57.67 57.67 0 1 1 132.28 340.59L132.49 343.46A54.78 54.78 0 1 0 140.32 343.45Z" fill="#f6f6f6"/>
<path d="M140.33 343.3A54.93 54.93 0 1 1 132.48 343.31L132.69 346.19A52.05 52.05 0 1 0 140.13 346.18Z" fill="#ececec"/>
<path d="M140.14 346.03A52.2 52.2 0 1 1 132.68 346.04L132.89 348.92A49.32 49.32 0 1 0 139.94 348.9Z" fill="#dcdcdc"/>
<path d="M139.95 348.75A49.47 49.47 0 1 1 132.88 348.77L133.09 351.64A46.58 46.58 0 1 0 139.75 351.63Z" fill="#cccccc"/>
<path d="M139.76 351.48A46.73 46.73 0 1 1 133.08 351.49L133.28 354.22A44 44 0 1 0 139.57 354.21Z" fill="#bebebe"/>
<path d="M139.49 355.3A42.9 42.9 0 1 1 133.36 355.32L133.69 359.8A38.4 38.4 0 1 0 139.18 359.79Z" fill="#fef0ea" stroke="#fbd3c6" stroke-width="0.5"/>
<path d="M144 290.86A107.5 107.5 0 0 1 228.06 341.77L225.42 343.4A104.4 104.4 0 0 0 143.78 293.95Z" fill="#a85a16"/>
<path d="M230.34 345.66A107.5 107.5 0 0 1 243.41 386.86L240.33 387.19A104.4 104.4 0 0 0 227.63 347.17Z" fill="#6a6410"/>
<path d="M243.68 389.85A107.5 107.5 0 0 1 234.86 441.48L232.02 440.23A104.4 104.4 0 0 0 240.59 390.09Z" fill="#e41212"/>
<path d="M233.61 444.21A107.5 107.5 0 0 1 167.93 500.9L167.02 497.94A104.4 104.4 0 0 0 230.81 442.88Z" fill="#f2c222"/>
<path d="M165.23 501.69A107.5 107.5 0 0 1 107.59 501.64L108.42 498.65A104.4 104.4 0 0 0 164.4 498.7Z" fill="#44ee22"/>
<path d="M105.07 500.9A107.5 107.5 0 0 1 50.31 462.34L52.79 460.49A104.4 104.4 0 0 0 105.98 497.94Z" fill="#1a7a1a"/>
<path d="M48.66 460.07A107.5 107.5 0 0 1 29.17 404.1L32.26 403.93A104.4 104.4 0 0 0 51.19 458.28Z" fill="#1010b4"/>
<path d="M29.04 401.1A107.5 107.5 0 0 1 33.92 365.95L36.88 366.88A104.4 104.4 0 0 0 32.14 401.02Z" fill="#22e8e8"/>
<path d="M34.74 363.46A107.5 107.5 0 0 1 60.75 321.82L62.94 324.02A104.4 104.4 0 0 0 37.67 364.46Z" fill="#a8eeee"/>
<path d="M62.91 319.74A107.5 107.5 0 0 1 96.93 298.15L98.07 301.03A104.4 104.4 0 0 0 65.03 322Z" fill="#484848"/>
<path d="M99.73 297.08A107.5 107.5 0 0 1 128.63 290.89L128.85 293.98A104.4 104.4 0 0 0 100.79 300Z" fill="#a81212"/>
<path d="M168.24 379.48L225.86 345.67" stroke="#fff" stroke-width="2.2"/>
<path d="M173.15 394.76L239.67 388.71" stroke="#fff" stroke-width="2.2"/>
<path d="M169.96 413.42L230.7 441.23" stroke="#fff" stroke-width="2.2"/>
<path d="M146.8 433.43L165.49 497.56" stroke="#fff" stroke-width="2.2"/>
<path d="M126.17 433.42L107.42 497.54" stroke="#fff" stroke-width="2.2"/>
<path d="M106.71 419.7L52.63 458.92" stroke="#fff" stroke-width="2.2"/>
<path d="M99.73 399.64L32.99 402.44" stroke="#fff" stroke-width="2.2"/>
<path d="M101.52 386.67L38.03 365.91" stroke="#fff" stroke-width="2.2"/>
<path d="M110.94 371.63L64.53 323.58" stroke="#fff" stroke-width="2.2"/>
<path d="M123.43 363.7L99.71 301.25" stroke="#fff" stroke-width="2.2"/>
<path d="M141.38 328.27A70 70 0 1 1 131.37 328.29" fill="none" stroke="#444" stroke-width="0.5"/>
<path d="M139.72 361.24A37 37 0 1 1 133.15 361.25" fill="none" stroke="#333" stroke-width="0.6"/>
<path d="M155.72 323.23A77.3 77.3 0 0 1 158.07 323.87L156.59 328.96A72 72 0 0 0 154.41 328.36Z" fill="#f4664a"/>
<path d="M170.63 328.74A77.3 77.3 0 0 1 174.45 330.76L171.85 335.37A72 72 0 0 0 168.29 333.5Z" fill="#f9a088"/>
<path d="M194.84 347.39A77.3 77.3 0 0 1 197.83 351.04L193.62 354.27A72 72 0 0 0 190.84 350.86Z" fill="#f9b09a"/>
<path d="M204.75 361.81A77.3 77.3 0 0 1 207.39 367.28L202.53 369.39A72 72 0 0 0 200.07 364.3Z" fill="#f5543c"/>
<path d="M212.11 382.03A77.3 77.3 0 0 1 212.74 385.34L207.51 386.22A72 72 0 0 0 206.93 383.13Z" fill="#f7755c"/>
<path d="M213.43 405.64A77.3 77.3 0 0 1 213.16 408.06L207.9 407.37A72 72 0 0 0 208.16 405.13Z" fill="#f4664a"/>
<path d="M211.82 415.49A77.3 77.3 0 0 1 211.17 418.11L206.05 416.73A72 72 0 0 0 206.65 414.3Z" fill="#f9b8a4"/>
<path d="M202.76 437.91A77.3 77.3 0 0 1 201.18 440.43L196.75 437.52A72 72 0 0 0 198.22 435.18Z" fill="#f9b09a"/>
<path d="M195.54 447.99A77.3 77.3 0 0 1 193.22 450.62L189.33 447.02A72 72 0 0 0 191.49 444.57Z" fill="#f03020"/>
<path d="M190.2 453.7A77.3 77.3 0 0 1 188.02 455.73L184.49 451.77A72 72 0 0 0 186.52 449.89Z" fill="#f9b09a"/>
<path d="M178.6 462.93A77.3 77.3 0 0 1 176.08 464.5L173.37 459.95A72 72 0 0 0 175.71 458.48Z" fill="#f55a40"/>
<path d="M147.26 474.65A77.3 77.3 0 0 1 144.31 475L143.78 469.73A72 72 0 0 0 146.52 469.4Z" fill="#f5543c"/>
<path d="M130.44 475.16A77.3 77.3 0 0 1 121.75 473.98L122.76 468.78A72 72 0 0 0 130.85 469.88Z" fill="#f9b09a"/>
<path d="M124.41 474.45A77.3 77.3 0 0 1 121.75 473.98L122.76 468.78A72 72 0 0 0 125.24 469.21Z" fill="#f7866c"/>
<path d="M108.3 470.07A77.3 77.3 0 0 1 104.57 468.5L106.76 463.67A72 72 0 0 0 110.23 465.14Z" fill="#f9a58c"/>
<path d="M101.65 467.1A77.3 77.3 0 0 1 99.26 465.84L101.81 461.19A72 72 0 0 0 104.04 462.37Z" fill="#f9b8a4"/>
<path d="M89.44 459.43A77.3 77.3 0 0 1 87.23 457.66L90.61 453.58A72 72 0 0 0 92.67 455.22Z" fill="#f9b09a"/>
<path d="M67.63 433.19A77.3 77.3 0 0 1 65.88 429.54L70.72 427.39A72 72 0 0 0 72.35 430.79Z" fill="#f9b8a4"/>
<path d="M62.98 421.99A77.3 77.3 0 0 1 61.7 417.58L66.82 416.25A72 72 0 0 0 68.02 420.35Z" fill="#f4664a"/>
<path d="M61.18 415.49A77.3 77.3 0 0 1 60.57 412.58L65.78 411.59A72 72 0 0 0 66.35 414.3Z" fill="#f9b09a"/>
<path d="M59.2 397.43A77.3 77.3 0 0 1 59.44 392.04L64.72 392.45A72 72 0 0 0 64.5 397.47Z" fill="#f66248"/>
<path d="M60.75 382.69A77.3 77.3 0 0 1 61.5 379.4L66.64 380.68A72 72 0 0 0 65.95 383.75Z" fill="#a80c0c"/>
<path d="M68.5 361.33A77.3 77.3 0 0 1 70.24 358.29L74.78 361.02A72 72 0 0 0 73.17 363.86Z" fill="#ee3030"/>
<path d="M72.12 355.32A77.3 77.3 0 0 1 73.49 353.32L77.81 356.39A72 72 0 0 0 76.53 358.26Z" fill="#f9b09a"/>
<path d="M78.7 346.78A77.3 77.3 0 0 1 80.52 344.79L84.36 348.45A72 72 0 0 0 82.66 350.3Z" fill="#f9b09a"/>
<path d="M91.06 335.56A77.3 77.3 0 0 1 93.05 334.17L96.03 338.55A72 72 0 0 0 94.18 339.85Z" fill="#f4664a"/>
<path d="M100.57 329.66A77.3 77.3 0 0 1 102.74 328.56L105.05 333.33A72 72 0 0 0 103.03 334.35Z" fill="#f4664a"/>
<path d="M118.59 322.9A77.3 77.3 0 0 1 120.69 322.43L121.78 327.62A72 72 0 0 0 119.81 328.06Z" fill="#f7755c"/>
<path d="M125.74 321.55A77.3 77.3 0 0 1 127.75 321.3L128.35 326.56A72 72 0 0 0 126.48 326.8Z" fill="#f7755c"/>
<path d="M142.38 356.82A41.7 41.7 0 0 1 143.67 357.02L143.33 358.99A39.7 39.7 0 0 0 142.09 358.8Z" fill="#f55a40"/>
<path d="M173.01 377.95A41.7 41.7 0 0 1 173.62 379.1L171.84 380.01A39.7 39.7 0 0 0 171.26 378.91Z" fill="#f55a40"/>
<path d="M177.88 403.25A41.7 41.7 0 0 1 177.7 404.55L175.72 404.24A39.7 39.7 0 0 0 175.9 403.01Z" fill="#f55a40"/>
<path d="M135.7 439.79A41.7 41.7 0 0 1 134.39 439.75L134.49 437.75A39.7 39.7 0 0 0 135.74 437.79Z" fill="#f55a40"/>
<path d="M117.5 435.22A41.7 41.7 0 0 1 116.35 434.61L117.31 432.86A39.7 39.7 0 0 0 118.41 433.44Z" fill="#ee3020"/>
<path d="M115.9 434.36A41.7 41.7 0 0 1 114.77 433.69L115.82 431.99A39.7 39.7 0 0 0 116.89 432.62Z" fill="#ee3020"/>
<path d="M114.34 433.42A41.7 41.7 0 0 1 113.24 432.71L114.36 431.05A39.7 39.7 0 0 0 115.4 431.73Z" fill="#ee3020"/>
<path d="M109.09 429.52A41.7 41.7 0 0 1 108.11 428.65L109.48 427.18A39.7 39.7 0 0 0 110.4 428.02Z" fill="#f55a40"/>
<path d="M95.89 388.65A41.7 41.7 0 0 1 96.2 387.38L98.13 387.89A39.7 39.7 0 0 0 97.83 389.1Z" fill="#f55a40"/>
<path d="M122.99 358.65A41.7 41.7 0 0 1 124.24 358.24L124.83 360.16A39.7 39.7 0 0 0 123.64 360.54Z" fill="#c01010"/>
<path d="M130.05 356.9A41.7 41.7 0 0 1 131.35 356.72L131.59 358.7A39.7 39.7 0 0 0 130.36 358.88Z" fill="#f55a40"/>
<path d="M155.38 302.75A97.2 97.2 0 0 1 163.62 304.76L162.45 308.79A93 93 0 0 0 154.56 306.87Z" fill="#17a64f"/>
<path d="M228.46 362.8A98.5 98.5 0 0 1 233.41 380.49L228 381.47A93 93 0 0 0 223.32 364.77Z" fill="#17a64f"/>
<path d="M231.86 370.76A99.2 99.2 0 0 1 234.1 380.36L228 381.47A93 93 0 0 0 225.9 372.47Z" fill="#17a64f"/>
<path d="M220.03 450.3A98.5 98.5 0 0 1 207.35 466.52L203.4 462.7A93 93 0 0 0 215.37 447.38Z" fill="#17a64f"/>
<path d="M189.6 479.87A97.5 97.5 0 0 1 183.77 483.38L181.59 479.44A93 93 0 0 0 187.15 476.1Z" fill="#17a64f"/>
<path d="M99.22 486.78A96.2 96.2 0 0 1 93.13 483.97L94.57 481.11A93 93 0 0 0 100.46 483.83Z" fill="#17a64f"/>
<path d="M45.2 427.77A96 96 0 0 1 43.77 422.95L46.67 422.17A93 93 0 0 0 48.05 426.84Z" fill="#17a64f"/>
<path d="M42.66 416.34A95.6 95.6 0 0 1 41.83 411.4L44.41 411.04A93 93 0 0 0 45.21 415.85Z" fill="#17a64f"/>
<path d="M38.72 382.61A99 99 0 0 1 40.96 372.14L46.75 373.72A93 93 0 0 0 44.64 383.55Z" fill="#17a64f"/>
<path d="M40.47 392.39A96.2 96.2 0 0 1 41.48 383.05L44.64 383.55A93 93 0 0 0 43.66 392.58Z" fill="#17a64f"/>
<path d="M80.11 319.91A96.4 96.4 0 0 1 84 317.25L85.85 320.1A93 93 0 0 0 82.1 322.67Z" fill="#17a64f"/>
<path d="M119.1 492A95.5 95.5 0 0 1 115.83 491.34L116.37 488.9A93 93 0 0 0 119.55 489.54Z" fill="#17a64f"/>
<path d="M153.56 310.34A89.4 89.4 0 0 1 161.14 312.16L159.87 316.59A84.8 84.8 0 0 0 152.68 314.86Z" fill="#1487c9"/>
<path d="M219.96 366.06A89.4 89.4 0 0 1 224.32 381.35L218.82 382.4A83.8 83.8 0 0 0 214.73 368.07Z" fill="#1487c9"/>
<path d="M212.32 445.47A89.4 89.4 0 0 1 200.81 460.2L196.78 456.31A83.8 83.8 0 0 0 207.57 442.51Z" fill="#1487c9"/>
<path d="M184.8 473.33A89.4 89.4 0 0 1 179.43 476.52L176.65 471.43A83.6 83.6 0 0 0 181.66 468.45Z" fill="#1487c9"/>
<path d="M101.86 480.51A89.4 89.4 0 0 1 96.19 477.9L97.81 474.68A85.8 85.8 0 0 0 103.25 477.2Z" fill="#1487c9"/>
<path d="M51.72 426.47A89.4 89.4 0 0 1 50.35 421.99L53.24 421.19A86.4 86.4 0 0 0 54.56 425.52Z" fill="#1487c9"/>
<path d="M48.6 414.39A89.4 89.4 0 0 1 47.86 409.77L50.64 409.4A86.6 86.6 0 0 0 51.35 413.88Z" fill="#1487c9"/>
<path d="M48.2 384.11A89.4 89.4 0 0 1 50.15 374.96L56.33 376.62A83 83 0 0 0 54.52 385.12Z" fill="#1487c9"/>
<path d="M47.26 392.8A89.4 89.4 0 0 1 48.2 384.11L50.77 384.52A86.8 86.8 0 0 0 49.85 392.95Z" fill="#1487c9"/>
<path d="M83.95 325.77A89.4 89.4 0 0 1 87.29 323.46L89.27 326.47A85.8 85.8 0 0 0 86.07 328.69Z" fill="#1487c9"/>
<path d="M120.21 486A89.4 89.4 0 0 1 117.15 485.38L117.8 482.45A86.4 86.4 0 0 0 120.75 483.05Z" fill="#1487c9"/>
<path d="M149.45 305.96A93.05 93.05 0 0 1 211.78 343.41" fill="none" stroke="#17a64f" stroke-width="0.7"/>
<path d="M148.94 309.62A89.35 89.35 0 0 1 208.79 345.58" fill="none" stroke="#1487c9" stroke-width="0.7"/>
<path d="M218.85 354.68A93.1 93.1 0 0 1 228.91 386.75" fill="none" stroke="#17a64f" stroke-width="0.8"/>
<path d="M215.49 356.45A89.3 89.3 0 0 1 225.13 387.22" fill="none" stroke="#1487c9" stroke-width="0.8"/>
<path d="M229.44 394.85A93 93 0 0 1 223.89 429.91" fill="none" stroke="#17a64f" stroke-width="0.6"/>
<path d="M225.85 394.98A89.4 89.4 0 0 1 220.51 428.68" fill="none" stroke="#1487c9" stroke-width="0.6"/>
<path d="M203.47 462.77A93.1 93.1 0 0 1 187.21 476.18" fill="none" stroke="#17a64f" stroke-width="0.8"/>
<path d="M200.74 460.13A89.3 89.3 0 0 1 185.14 472.99" fill="none" stroke="#1487c9" stroke-width="0.8"/>
<path d="M181.59 479.44A93 93 0 0 1 166.78 486.03" fill="none" stroke="#17a64f" stroke-width="0.6"/>
<path d="M179.84 476.29A89.4 89.4 0 0 1 165.61 482.63" fill="none" stroke="#1487c9" stroke-width="0.6"/>
<path d="M159 488.34A93 93 0 0 1 116.37 488.9" fill="none" stroke="#17a64f" stroke-width="0.6"/>
<path d="M158.13 484.84A89.4 89.4 0 0 1 117.15 485.38" fill="none" stroke="#1487c9" stroke-width="0.6"/>
<path d="M103.15 484.97A93.05 93.05 0 0 1 66.27 459.15" fill="none" stroke="#17a64f" stroke-width="0.7"/>
<path d="M104.48 481.52A89.35 89.35 0 0 1 69.07 456.72" fill="none" stroke="#1487c9" stroke-width="0.7"/>
<path d="M55.92 444.63A93.05 93.05 0 0 1 43.8 406.21" fill="none" stroke="#17a64f" stroke-width="0.7"/>
<path d="M59.12 442.78A89.35 89.35 0 0 1 47.49 405.89" fill="none" stroke="#1487c9" stroke-width="0.7"/>
<path d="M43.45 398.1A93.05 93.05 0 0 1 47.05 372.45" fill="none" stroke="#17a64f" stroke-width="0.7"/>
<path d="M47.15 398.1A89.35 89.35 0 0 1 50.61 373.47" fill="none" stroke="#1487c9" stroke-width="0.7"/>
<path d="M54.15 353.39A93.7 93.7 0 0 1 68.2 333.96" fill="none" stroke="#17a64f" stroke-width="2"/>
<path d="M58.55 355.78A88.7 88.7 0 0 1 71.84 337.38" fill="none" stroke="#1487c9" stroke-width="2"/>
<path d="M76.69 326.82A93.05 93.05 0 0 1 95.13 314.75" fill="none" stroke="#17a64f" stroke-width="0.7"/>
<path d="M79.07 329.65A89.35 89.35 0 0 1 96.77 318.07" fill="none" stroke="#1487c9" stroke-width="0.7"/>
<path d="M112.42 308.22A93.05 93.05 0 0 1 126.77 305.56" fill="none" stroke="#17a64f" stroke-width="0.7"/>
<path d="M113.37 311.79A89.35 89.35 0 0 1 127.16 309.24" fill="none" stroke="#1487c9" stroke-width="0.7"/>
<circle cx="211.98" cy="343.26" r="1" fill="#17a64f"/>
<circle cx="208.58" cy="345.73" r="1" fill="#1487c9"/>
<circle cx="219.03" cy="354.59" r="1" fill="#17a64f"/>
<circle cx="215.32" cy="356.54" r="1" fill="#1487c9"/>
<circle cx="95.02" cy="314.53" r="1" fill="#17a64f"/>
<circle cx="96.88" cy="318.29" r="1" fill="#1487c9"/>
<path d="M161.48 343.55A60 60 0 0 1 167.58 346.78L165.1 350.88A55.2 55.2 0 0 0 159.48 347.91Z" fill="#7fd99f"/>
<path d="M179.15 357.62A58.8 58.8 0 0 1 183.15 362.3L179.34 365.23A54 54 0 0 0 175.67 360.93Z" fill="#7fd99f"/>
<path d="M200.24 407.97A64.5 64.5 0 0 1 199.3 412.83L189.56 410.55A54.5 54.5 0 0 0 190.36 406.44Z" fill="#7fd99f"/>
<path d="M177.58 444.54A62 62 0 0 1 172.06 448.89L168.51 443.81A55.8 55.8 0 0 0 173.47 439.89Z" fill="#7fd99f"/>
<path d="M97.2 449.87A65 65 0 0 1 92.67 446.1L99.41 438.72A55 55 0 0 0 103.25 441.91Z" fill="#7fd99f"/>
<path d="M166.07 349.84A56.6 56.6 0 0 1 177.56 359.14L176.76 359.9A55.5 55.5 0 0 0 165.5 350.78Z" fill="#7fd99f"/>
<path d="M157.24 348.03A54.2 54.2 0 0 1 170.61 355.98L164.57 363.44A44.6 44.6 0 0 0 153.57 356.89Z" fill="#86c8ea"/>
<path d="M188.04 408.59A52.6 52.6 0 0 1 187.19 412.16L180.83 410.39A46 46 0 0 0 181.58 407.27Z" fill="#86c8ea"/>
<path d="M85.38 416.71A54.4 54.4 0 0 1 83.86 411.81L89.28 410.4A48.8 48.8 0 0 0 90.64 414.79Z" fill="#86c8ea"/>
<path d="M104.54 439.75A52.5 52.5 0 0 1 101.03 436.81L105.09 432.38A46.5 46.5 0 0 0 108.19 434.99Z" fill="#86c8ea"/>
<path d="M117.52 347.33A54.2 54.2 0 0 1 128.02 344.57L129.52 354.05A44.6 44.6 0 0 0 120.88 356.32Z" fill="none" stroke="#6aa8d8" stroke-width="0.8"/>
<path d="M117.78 343.73L119.7 342.8L121.66 341.93L123.66 341.13L125.7 340.4L127.78 339.75" fill="none" stroke="#58c47c" stroke-width="0.8"/>
<path d="M165.7 362.04L166.96 363.29L168.16 364.59L169.31 365.93L170.4 367.31L171.44 368.72L172.42 370.17L173.33 371.64L174.19 373.15" fill="none" stroke="#5a9cd0" stroke-width="0.7"/>
<path d="M89.52 381L89.97 379.3L90.49 377.62L91.07 375.94L91.71 374.28L92.41 372.65L93.17 371.03L93.99 369.43L94.87 367.86L95.81 366.31L96.8 364.79L97.86 363.31" fill="none" stroke="#666" stroke-width="0.4"/>
<path d="M180.65 421.57L179.84 423.12L178.98 424.65L178.07 426.14L177.1 427.6L176.09 429.03L175.02 430.42L173.9 431.78L172.74 433.1L171.53 434.38L170.28 435.61L168.98 436.8L167.63 437.95L166.25 439.05L164.83 440.1L163.37 441.11L161.88 442.06L160.35 442.96L158.79 443.81L157.2 444.6L155.59 445.34L153.94 446.02" fill="none" stroke="#666" stroke-width="0.4"/>
<circle cx="136.5" cy="398.1" r="35.4" fill="#fff"/>
<clipPath id="cc"><circle cx="136.5" cy="398.1" r="35"/></clipPath><g clip-path="url(#cc)">
<path d="M101.51 397.49A35 35 0 0 1 101.8 393.53Q135.76 390.32 167.69 382.21A35 35 0 0 1 169.97 387.87Q136.18 392.34 101.51 397.49Z" fill="#14eaa6" fill-opacity="0.95"/>
<path d="M102.4 405.97A35 35 0 0 1 101.61 400.85Q136.36 397.15 170.74 390.82A35 35 0 0 1 171.45 396.27Q136.68 399.37 102.4 405.97Z" fill="#22f0b8" fill-opacity="0.9"/>
<path d="M101.57 400.24A35 35 0 0 1 101.5 398.41Q136.22 394.98 170.14 388.45A35 35 0 0 1 170.6 390.23Q136.33 395.74 101.57 400.24Z" fill="#40f2cc" fill-opacity="0.8"/>
<path d="M126.56 364.54A35 35 0 0 1 128.63 364Q137.6 397.75 149.61 430.55A35 35 0 0 1 144.97 432.06Q136.19 398.18 126.56 364.54Z" fill="#18e8a4" fill-opacity="0.85"/>
<path d="M129.52 363.8A35 35 0 0 1 131.63 363.44Q140.48 396.69 157.56 426.05A35 35 0 0 1 152.39 429.29Q138.95 397.45 129.52 363.8Z" fill="#1ce6a8" fill-opacity="0.85"/>
<path d="M132.54 363.32A35 35 0 0 1 134.97 363.13Q143.13 395.28 164.08 419.65A35 35 0 0 1 159 424.91Q141.55 396.43 132.54 363.32Z" fill="#28ecb4" fill-opacity="0.85"/>
<path d="M166.5 416.13A35 35 0 0 1 164.82 418.67Q135.54 407.25 103.61 410.07A35 35 0 0 1 102.86 407.75Q135.73 406.23 166.5 416.13Z" fill="#30eec0" fill-opacity="0.7"/>
<path d="M139.55 363.23A35 35 0 0 1 146.73 364.63Q140.58 399.9 110.9 421.97A35 35 0 0 1 106.82 416.65Q139.17 399.06 139.55 363.23Z" fill="#ff8408" fill-opacity="0.93"/>
<path d="M157.07 369.78A35 35 0 0 1 159.46 371.69Q148.48 398.92 154 428.41A35 35 0 0 1 150.74 430.07Q147.29 398.87 157.07 369.78Z" fill="#ff9a22" fill-opacity="0.8"/>
<path d="M160.37 372.5A35 35 0 0 1 162.1 374.23Q142.96 401.2 125.11 431.19A35 35 0 0 1 122.82 430.32Q142.12 400.65 160.37 372.5Z" fill="#ffa030" fill-opacity="0.75"/>
<path d="M147.89 365.01A35 35 0 0 1 153.47 367.49Q133.3 388.8 104.28 384.42A35 35 0 0 1 107.83 378.02Q132.87 386.93 147.89 365.01Z" fill="#ffee10" fill-opacity="0.97"/>
<path d="M153.73 367.64A35 35 0 0 1 155.56 368.75Q133.47 389.79 103.03 387.87A35 35 0 0 1 104.16 384.71Q133.33 388.89 153.73 367.64Z" fill="#ffc400" fill-opacity="0.95"/>
<path d="M171.31 401.76A35 35 0 0 1 168.22 412.89Q140.06 407.87 121.71 429.82A35 35 0 0 1 113.08 424.11Q138.89 404.33 171.31 401.76Z" fill="#ff3a10" fill-opacity="0.97"/>
<path d="M167.96 413.44A35 35 0 0 1 167.11 415.07Q141.82 412.13 125.68 431.39A35 35 0 0 1 122.82 430.32Q141.39 411.57 167.96 413.44Z" fill="#ff5a30" fill-opacity="0.8"/>
<path d="M171.49 397.49A35 35 0 0 1 171.48 399.32Q137.48 394.68 106.19 380.6A35 35 0 0 1 106.82 379.55Q137.62 394.08 171.49 397.49Z" fill="#ff40b0" fill-opacity="0.8"/>
<path d="M113.08 372.09A35 35 0 0 1 124.82 365.11Q129.59 397.32 140.16 432.91A35 35 0 0 1 126.27 431.57Q124.21 398.51 113.08 372.09Z" fill="#f0105a" fill-opacity="0.97"/>
<path d="M109.3 376.07A35 35 0 0 1 110.9 374.23Q125.25 401.2 125.11 431.19A35 35 0 0 1 123.39 430.55Q124.55 401.45 109.3 376.07Z" fill="#e01890" fill-opacity="0.6"/>
<path d="M103.61 410.07Q134.42 395.13 159 371.29" fill="none" stroke="#ffd020" stroke-width="0.45" stroke-opacity="0.8"/>
<path d="M106.19 415.6Q137.33 402.82 170.97 404.18" fill="none" stroke="#ffe040" stroke-width="0.45" stroke-opacity="0.8"/>
<path d="M119 428.41Q139.06 400.66 166.81 380.6" fill="none" stroke="#ff9020" stroke-width="0.45" stroke-opacity="0.8"/>
<path d="M124.53 430.99Q136.5 398.1 148.47 365.21" fill="none" stroke="#ff7010" stroke-width="0.45" stroke-opacity="0.8"/>
<path d="M142.58 432.57Q143.08 400.49 163.31 375.6" fill="none" stroke="#20e0b0" stroke-width="0.45" stroke-opacity="0.8"/>
<path d="M145.56 431.91Q145.29 404.25 171.37 395.05" fill="none" stroke="#ff5030" stroke-width="0.45" stroke-opacity="0.8"/>
<path d="M159 424.91Q134.94 399.96 106.19 380.6" fill="none" stroke="#18e0a8" stroke-width="0.45" stroke-opacity="0.8"/>
<path d="M161.25 422.85Q137.95 396.99 119 367.79" fill="none" stroke="#ff6a20" stroke-width="0.45" stroke-opacity="0.8"/>
<path d="M165.17 418.18Q135.34 400.9 102.03 392.02" fill="none" stroke="#30f0c0" stroke-width="0.45" stroke-opacity="0.8"/>
<path d="M116.42 426.77Q139.06 406.23 169.39 410.07" fill="none" stroke="#ff3a10" stroke-width="0.45" stroke-opacity="0.8"/>
<path d="M110.49 421.52Q136.66 407.28 163.31 420.6" fill="none" stroke="#10e0a0" stroke-width="0.45" stroke-opacity="0.8"/>
<path d="M130.42 432.57Q133.47 398.23 127.44 364.29" fill="none" stroke="#ff2060" stroke-width="0.45" stroke-opacity="0.8"/>
<path d="M148.47 430.99Q140.11 397.78 142.58 363.63" fill="none" stroke="#ff8020" stroke-width="0.45" stroke-opacity="0.8"/>
<path d="M103.61 386.13Q136.9 396.32 171.37 401.15" fill="none" stroke="#ffe030" stroke-width="0.45" stroke-opacity="0.8"/>
<path d="M109.69 375.6Q135.64 398.96 159 424.91" fill="none" stroke="#ff9a20" stroke-width="0.45" stroke-opacity="0.8"/>
<path d="M108.92 419.65Q132.8 395.65 145.56 364.29" fill="none" stroke="#ff6a10" stroke-width="0.45" stroke-opacity="0.8"/>
<path d="M156.07 427.12Q134.12 406.97 105.04 413.44" fill="none" stroke="#ff5a28" stroke-width="0.45" stroke-opacity="0.8"/>
<path d="M152.93 429Q135.1 409.48 113.08 424.11" fill="none" stroke="#18d8a0" stroke-width="0.45" stroke-opacity="0.8"/>
<path d="M122.82 430.32Q137.78 398.81 156.58 369.43" fill="none" stroke="#ff4a20" stroke-width="0.45" stroke-opacity="0.8"/>
<path d="M120.61 429.29Q138.84 400.03 164.08 376.55" fill="none" stroke="#ff3060" stroke-width="0.45" stroke-opacity="0.8"/>
<path d="M118.47 428.1Q139.66 402.29 170.31 389.04" fill="none" stroke="#ff7a30" stroke-width="0.45" stroke-opacity="0.8"/>
<path d="M132.84 432.91Q141.95 408.35 167.4 414.53" fill="none" stroke="#ff3a20" stroke-width="0.45" stroke-opacity="0.8"/>
<path d="M135.89 433.09Q141.89 409.41 164.08 419.65" fill="none" stroke="#ff50a0" stroke-width="0.45" stroke-opacity="0.8"/>
<path d="M138.33 433.05Q141.55 410.29 159.92 424.11" fill="none" stroke="#ff4020" stroke-width="0.45" stroke-opacity="0.8"/>
<path d="M143.78 432.34Q141.66 410.88 155.05 427.78" fill="none" stroke="#20e0a8" stroke-width="0.45" stroke-opacity="0.8"/>
<path d="M150.74 430.07Q135.04 398.98 114.95 370.52" fill="none" stroke="#ff9a30" stroke-width="0.45" stroke-opacity="0.8"/>
<path d="M155.05 427.78Q134.69 399.73 108.92 376.55" fill="none" stroke="#ff8020" stroke-width="0.45" stroke-opacity="0.8"/>
<path d="M114.95 425.68Q128.69 397.55 119 367.79" fill="none" stroke="#ff7a10" stroke-width="0.45" stroke-opacity="0.8"/>
<path d="M106.19 415.6Q128.98 394.75 129.22 363.86" fill="none" stroke="#ffa020" stroke-width="0.45" stroke-opacity="0.8"/>
<path d="M102.4 390.23Q133.18 402.59 154 428.41" fill="none" stroke="#ffd840" stroke-width="0.45" stroke-opacity="0.8"/>
<path d="M105.04 382.76Q136.27 391.53 166.81 380.6" fill="none" stroke="#ffb020" stroke-width="0.45" stroke-opacity="0.8"/>
</g>
<text class="chr" transform="translate(196.49 299.05) rotate(31.2)">Chr1</text>
<text class="tk" transform="translate(145.35 288.06) rotate(4.6)">0</text>
<text class="tk" transform="translate(159.83 290.19) rotate(12.2)">25</text>
<text class="tk" transform="translate(173.9 294.23) rotate(19.8)">50</text>
<text class="tk" transform="translate(187.31 300.09) rotate(27.4)">75</text>
<text class="tk" transform="translate(199.82 307.67) rotate(35)">100</text>
<text class="tk" transform="translate(211.23 316.83) rotate(42.6)">125</text>
<text class="tk" transform="translate(221.32 327.43) rotate(50.2)">150</text>
<text class="tk" transform="translate(229.92 339.27) rotate(57.8)">175</text>
<text class="chr" transform="translate(246.88 363.09) rotate(72.4)">Chr2</text>
<text class="tk" transform="translate(233.43 345.25) rotate(61.4)">0</text>
<text class="tk" transform="translate(239.38 358.06) rotate(68.73)">25</text>
<text class="tk" transform="translate(243.65 371.52) rotate(76.07)">50</text>
<text class="tk" transform="translate(246.17 385.41) rotate(83.4)">75</text>
<text class="chr" transform="translate(250.64 417.61) rotate(279.7)">Chr4</text>
<text class="tk" transform="translate(246.66 390.78) rotate(86.2)">0</text>
<text class="tk" transform="translate(246.75 403.78) rotate(272.95)">25</text>
<text class="tk" transform="translate(245.32 416.7) rotate(279.7)">50</text>
<text class="tk" transform="translate(242.38 429.36) rotate(286.45)">75</text>
<text class="tk" transform="translate(237.97 441.59) rotate(293.2)">100</text>
<text class="chr" transform="translate(212.17 485.76) rotate(319.2)">Chr9</text>
<text class="tk" transform="translate(235.73 446.5) rotate(296)">0</text>
<text class="tk" transform="translate(228.31 459.41) rotate(303.73)">25</text>
<text class="tk" transform="translate(219.23 471.21) rotate(311.47)">50</text>
<text class="tk" transform="translate(208.64 481.67) rotate(319.2)">75</text>
<text class="tk" transform="translate(196.74 490.62) rotate(326.93)">100</text>
<text class="tk" transform="translate(183.74 497.88) rotate(334.67)">125</text>
<text class="tk" transform="translate(169.88 503.33) rotate(342.4)">150</text>
<text class="chr" transform="translate(136.4 513.9) rotate(360.05)">Chr12</text>
<text class="tk" transform="translate(164.89 504.79) rotate(345.1)">0</text>
<text class="tk" transform="translate(150.77 507.57) rotate(352.57)">25</text>
<text class="tk" transform="translate(136.4 508.5) rotate(360.05)">50</text>
<text class="tk" transform="translate(122.04 507.55) rotate(367.52)">75</text>
<text class="tk" transform="translate(107.93 504.74) rotate(375)">100</text>
<text class="chr" transform="translate(69.83 492.78) rotate(395.15)">Chr13</text>
<text class="tk" transform="translate(103.12 503.33) rotate(377.6)">0</text>
<text class="tk" transform="translate(90.51 498.46) rotate(384.62)">25</text>
<text class="tk" transform="translate(78.59 492.09) rotate(391.64)">50</text>
<text class="tk" transform="translate(67.53 484.31) rotate(398.66)">75</text>
<text class="tk" transform="translate(57.51 475.23) rotate(405.68)">100</text>
<text class="tk" transform="translate(48.68 465) rotate(412.7)">125</text>
<text class="chr" transform="translate(27.14 436.18) rotate(430.8)">Chr14</text>
<text class="tk" transform="translate(45.63 460.79) rotate(415.4)">0</text>
<text class="tk" transform="translate(38.05 448.05) rotate(423.1)">25</text>
<text class="tk" transform="translate(32.24 434.41) rotate(430.8)">50</text>
<text class="tk" transform="translate(28.32 420.11) rotate(438.5)">75</text>
<text class="tk" transform="translate(26.34 405.42) rotate(446.2)">100</text>
<text class="chr" transform="translate(21.8 382.18) rotate(277.9)">Chr17</text>
<text class="tk" transform="translate(26.12 400.03) rotate(449)">0</text>
<text class="tk" transform="translate(27.15 382.93) rotate(277.9)">25</text>
<text class="tk" transform="translate(30.81 366.19) rotate(286.8)">50</text>
<text class="chr" transform="translate(38.3 336.74) rotate(302)">Chr18</text>
<text class="tk" transform="translate(32.37 361.43) rotate(289.4)">0</text>
<text class="tk" transform="translate(38.84 346.61) rotate(297.8)">25</text>
<text class="tk" transform="translate(47.41 332.9) rotate(306.2)">50</text>
<text class="tk" transform="translate(57.89 320.58) rotate(314.6)">75</text>
<text class="chr" transform="translate(74.45 300.33) rotate(327.6)">Chr22</text>
<text class="tk" transform="translate(61.77 316.83) rotate(317.4)">0</text>
<text class="tk" transform="translate(71.92 308.56) rotate(324.2)">25</text>
<text class="tk" transform="translate(82.98 301.54) rotate(331)">50</text>
<text class="tk" transform="translate(94.79 295.88) rotate(337.8)">75</text>
<text class="chr" transform="translate(112.23 284.87) rotate(347.9)">Chr26</text>
<text class="tk" transform="translate(99.83 293.97) rotate(340.6)">0</text>
<text class="tk" transform="translate(113.36 290.15) rotate(347.9)">25</text>
<text class="tk" transform="translate(127.26 288.09) rotate(355.2)">50</text>
</g>
<rect x="130.8" y="319.5" width="12.2" height="41.5" fill="#fff"/>
<text class="tl i" x="136.8" y="294.7">GSC</text>
<text class="tl" x="136.8" y="303.7">mRNA</text>
<text class="tl i" x="136.8" y="312.9">SS</text>
<text class="tl i" x="136.8" y="324.9">CGE</text>
<text class="tl i" x="136.8" y="335.6">GSC</text>
<text class="tl" x="136.8" y="344.1">miRNA</text>
<text class="tl i" x="136.8" y="351.9">SS</text>
<text class="tl i" x="136.8" y="359.2">CGE</text>
<rect x="110.6" y="522.4" width="52.6" height="5.2" fill="url(#lgB)" stroke="#bbb" stroke-width="0.4"/>
<text class="tk" x="112.6" y="532.8">0.00</text>
<text class="tk" x="137.5" y="532.8">0.500</text>
<text class="tk" x="160.5" y="532.8">1.000</text>
<path d="M110.8 527.6v2.4M163 527.6v2.4" stroke="#999" stroke-width="0.4"/>
<g shape-rendering="crispEdges">
<rect x="265.3" y="70" width="65.2" height="198.7" fill="#8080ff"/>
<rect x="265.3" y="268.4" width="65.2" height="3.6" fill="#bebeff"/>
<rect x="265.3" y="271.7" width="65.2" height="4.2" fill="#d7d7ff"/>
<rect x="265.3" y="275.6" width="65.2" height="4.1" fill="#f0f0ff"/>
<rect x="265.3" y="279.4" width="65.2" height="6.8" fill="#fafaff"/>
<rect x="265.3" y="285.9" width="65.2" height="4.1" fill="#c8c8ff"/>
<rect x="265.3" y="289.7" width="65.2" height="4.2" fill="#aaaaff"/>
<rect x="265.3" y="293.6" width="65.2" height="3.4" fill="#8787ff"/>
<rect x="265.3" y="296.7" width="65.2" height="6.2" fill="#ffb9b9"/>
<rect x="265.3" y="302.6" width="65.2" height="2.9" fill="#ffd7d7"/>
<rect x="265.3" y="305.2" width="65.2" height="3.4" fill="#ffbebe"/>
<rect x="265.3" y="308.3" width="65.2" height="8.8" fill="#ff8787"/>
<rect x="265.3" y="316.8" width="65.2" height="8.5" fill="#ff9696"/>
<rect x="265.3" y="325" width="65.2" height="12" fill="#ff8787"/>
<rect x="265.3" y="336.7" width="65.2" height="36.4" fill="#ff8080"/>
<rect x="265.3" y="372.8" width="65.2" height="31.5" fill="#ff8686"/>
<rect x="265.3" y="404" width="65.2" height="3.6" fill="#ffe6e6"/>
<rect x="265.3" y="407.3" width="65.2" height="8" fill="#ffc8c8"/>
<rect x="265.3" y="415" width="65.2" height="6.8" fill="#ffd7d7"/>
<rect x="265.3" y="421.5" width="65.2" height="19.6" fill="#ff9696"/>
<rect x="265.3" y="440.8" width="65.2" height="5.5" fill="#ffb9b9"/>
<rect x="265.3" y="446" width="65.2" height="9.7" fill="#ffa8a8"/>
<rect x="265.3" y="455.4" width="65.2" height="4.9" fill="#ffa0a0"/>
<rect x="265.3" y="460" width="65.2" height="4.7" fill="#ffaaaa"/>
<rect x="265.3" y="464.4" width="65.2" height="14.5" fill="#8282ff"/>
<rect x="265.3" y="478.6" width="65.2" height="8" fill="#9191ff"/>
<rect x="265.3" y="486.3" width="65.2" height="3.4" fill="#bebeff"/>
<rect x="265.3" y="489.4" width="65.2" height="3.7" fill="#9696ff"/>
<rect x="265.3" y="492.8" width="65.2" height="2.8" fill="#fcfcff"/>
<rect x="265.3" y="495.3" width="65.2" height="5.5" fill="#e1e1ff"/>
<rect x="330.2" y="70" width="65.3" height="3.8" fill="#a0a0ff"/>
<rect x="330.2" y="73.5" width="65.3" height="2.8" fill="#acacff"/>
<rect x="330.2" y="76" width="65.3" height="3.3" fill="#a5a5ff"/>
<rect x="330.2" y="79" width="65.3" height="3.3" fill="#b0b0ff"/>
<rect x="330.2" y="82" width="65.3" height="5.3" fill="#a0a0ff"/>
<rect x="330.2" y="87" width="65.3" height="6.3" fill="#8e8eff"/>
<rect x="330.2" y="93" width="65.3" height="7.3" fill="#8484ff"/>
<rect x="330.2" y="100" width="65.3" height="26.7" fill="#8080ff"/>
<rect x="330.2" y="126.4" width="65.3" height="9.9" fill="#ffbebe"/>
<rect x="330.2" y="136" width="65.3" height="8.7" fill="#ffb4b4"/>
<rect x="330.2" y="144.4" width="65.3" height="2.9" fill="#ff8c8c"/>
<rect x="330.2" y="147" width="65.3" height="9.3" fill="#ffa0a0"/>
<rect x="330.2" y="156" width="65.3" height="9.3" fill="#b9b9ff"/>
<rect x="330.2" y="165" width="65.3" height="8.1" fill="#afafff"/>
<rect x="330.2" y="172.8" width="65.3" height="8" fill="#d7d7ff"/>
<rect x="330.2" y="180.5" width="65.3" height="3.8" fill="#e1e1ff"/>
<rect x="330.2" y="184" width="65.3" height="9" fill="#cbcbff"/>
<rect x="330.2" y="192.7" width="65.3" height="11.9" fill="#bebeff"/>
<rect x="330.2" y="204.3" width="65.3" height="9.3" fill="#f8f8ff"/>
<rect x="330.2" y="213.3" width="65.3" height="17" fill="#ebebff"/>
<rect x="330.2" y="230" width="65.3" height="8.1" fill="#ffe1e1"/>
<rect x="330.2" y="237.8" width="65.3" height="10.5" fill="#fff5f5"/>
<rect x="330.2" y="248" width="65.3" height="10" fill="#ffdede"/>
<rect x="330.2" y="257.7" width="65.3" height="5.6" fill="#ffcdcd"/>
<rect x="330.2" y="263" width="65.3" height="5.8" fill="#ffe1e1"/>
<rect x="330.2" y="268.5" width="65.3" height="135.8" fill="#8080ff"/>
<rect x="330.2" y="404" width="65.3" height="9.3" fill="#fffafa"/>
<rect x="330.2" y="413" width="65.3" height="8.8" fill="#fafaff"/>
<rect x="330.2" y="421.5" width="65.3" height="9.3" fill="#a5a5ff"/>
<rect x="330.2" y="430.5" width="65.3" height="5.4" fill="#9696ff"/>
<rect x="330.2" y="435.6" width="65.3" height="5.5" fill="#8484ff"/>
<rect x="330.2" y="440.8" width="65.3" height="2.1" fill="#9696ff"/>
<rect x="330.2" y="442.6" width="65.3" height="8" fill="#c8c8ff"/>
<rect x="330.2" y="450.3" width="65.3" height="14.4" fill="#b4b4ff"/>
<rect x="330.2" y="464.4" width="65.3" height="14.5" fill="#ff8080"/>
<rect x="330.2" y="478.6" width="65.3" height="8" fill="#ff8c8c"/>
<rect x="330.2" y="486.3" width="65.3" height="6.8" fill="#ffa0a0"/>
<rect x="330.2" y="492.8" width="65.3" height="8" fill="#ffbebe"/>
<rect x="395.2" y="70" width="65.9" height="10.3" fill="#ff9292"/>
<rect x="395.2" y="80" width="65.9" height="15.3" fill="#ff8c8c"/>
<rect x="395.2" y="95" width="65.9" height="15.3" fill="#ff8686"/>
<rect x="395.2" y="110" width="65.9" height="16.7" fill="#ff8181"/>
<rect x="395.2" y="126.4" width="65.9" height="9.9" fill="#e1e1ff"/>
<rect x="395.2" y="136" width="65.9" height="8.7" fill="#cdcdff"/>
<rect x="395.2" y="144.4" width="65.9" height="2.9" fill="#9696ff"/>
<rect x="395.2" y="147" width="65.9" height="9.3" fill="#afafff"/>
<rect x="395.2" y="156" width="65.9" height="15.8" fill="#ffa5a5"/>
<rect x="395.2" y="171.5" width="65.9" height="13.8" fill="#ffb0b0"/>
<rect x="395.2" y="185" width="65.9" height="8" fill="#ffb4b4"/>
<rect x="395.2" y="192.7" width="65.9" height="11.9" fill="#ffa5a5"/>
<rect x="395.2" y="204.3" width="65.9" height="14.5" fill="#ffcdcd"/>
<rect x="395.2" y="218.5" width="65.9" height="11.8" fill="#ffc3c3"/>
<rect x="395.2" y="230" width="65.9" height="8.1" fill="#ffe1e1"/>
<rect x="395.2" y="237.8" width="65.9" height="10.5" fill="#ffd7d7"/>
<rect x="395.2" y="248" width="65.9" height="10" fill="#fff0f0"/>
<rect x="395.2" y="257.7" width="65.9" height="11.1" fill="#fafaff"/>
<rect x="395.2" y="268.5" width="65.9" height="7.5" fill="#ffb9b9"/>
<rect x="395.2" y="275.7" width="65.9" height="10.6" fill="#ffc8c8"/>
<rect x="395.2" y="286" width="65.9" height="5.3" fill="#ffa0a0"/>
<rect x="395.2" y="291" width="65.9" height="6.1" fill="#ff8c8c"/>
<rect x="395.2" y="296.8" width="65.9" height="6.3" fill="#ebebff"/>
<rect x="395.2" y="302.8" width="65.9" height="5.5" fill="#ffffff"/>
<rect x="395.2" y="308" width="65.9" height="6.6" fill="#8c8cff"/>
<rect x="395.2" y="314.3" width="65.9" height="4" fill="#a0a0ff"/>
<rect x="395.2" y="318" width="65.9" height="4.3" fill="#b9b9ff"/>
<rect x="395.2" y="322" width="65.9" height="178.8" fill="#8080ff"/>
</g>
<rect x="314.2" y="505.8" width="97.2" height="5.6" fill="url(#lgC)" stroke="#333" stroke-width="0.5"/>
<text class="lg" transform="translate(314.4 521.4) scale(0.72 1)">&lt;-0,2</text>
<text class="lg" transform="translate(328.8 521.4) scale(0.72 1)">0</text>
<text class="lg" transform="translate(343.2 521.4) scale(0.72 1)">0,2</text>
<text class="lg" transform="translate(357.4 521.4) scale(0.72 1)">0,4</text>
<text class="lg" transform="translate(371.6 521.4) scale(0.72 1)">0,6</text>
<text class="lg" transform="translate(386 521.4) scale(0.72 1)">0,8</text>
<text class="lg" transform="translate(400.4 521.4) scale(0.72 1)">1</text>
<text class="lg" transform="translate(412.4 521.4) scale(0.72 1)">1,155</text>
<path d="M314.4 511.4v2.8M328.8 511.4v2.8M343.2 511.4v2.8M357.4 511.4v2.8M371.6 511.4v2.8M386 511.4v2.8M400.4 511.4v2.8M411.2 511.4v2.8" stroke="#333" stroke-width="0.5"/>
<text class="cl" x="296.9" y="57.9">GSC</text>
<text class="cl" x="296.9" y="67.4">32 PSU</text>
<text class="cl" x="363" y="57.9">SS</text>
<text class="cl" x="363" y="67.4">32 PSU</text>
<text class="cl" x="429.8" y="62.5">FW</text>
<path d="M346.5 23.4V28.6M297.4 44.6V28.6H395.3V33.7M362.5 44.2V33.7H428.5V44.2" fill="none" stroke="#444" stroke-width="0.7"/>
<path d="M462.2 71.44L467.45 71.44M462.2 74.31L467.45 74.31M467.45 71.44L467.45 74.31M462.2 77.17L467.45 77.17M462.2 80.05L467.45 80.05M467.45 77.17L467.45 80.05M467.45 72.87L472.7 72.87M467.45 78.61L472.7 78.61M472.7 72.87L472.7 78.61M462.2 82.92L467.45 82.92M462.2 85.78L467.45 85.78M467.45 82.92L467.45 85.78M462.2 91.53L467.45 91.53M462.2 94.39L467.45 94.39M467.45 91.53L467.45 94.39M462.2 88.66L472.7 88.66M467.45 92.96L472.7 92.96M472.7 88.66L472.7 92.96M467.45 84.35L477.95 84.35M472.7 90.81L477.95 90.81M477.95 84.35L477.95 90.81M472.7 75.74L483.2 75.74M477.95 87.58L483.2 87.58M483.2 75.74L483.2 87.58M462.2 97.27L467.45 97.27M462.2 100.14L467.45 100.14M467.45 97.27L467.45 100.14M462.2 103L467.45 103M462.2 105.88L467.45 105.88M467.45 103L467.45 105.88M467.45 98.7L472.7 98.7M467.45 104.44L472.7 104.44M472.7 98.7L472.7 104.44M462.2 108.75L467.45 108.75M462.2 111.62L467.45 111.62M467.45 108.75L467.45 111.62M462.2 114.48L467.45 114.48M462.2 117.36L467.45 117.36M467.45 114.48L467.45 117.36M467.45 110.18L472.7 110.18M467.45 115.92L472.7 115.92M472.7 110.18L472.7 115.92M462.2 123.09L467.45 123.09M462.2 125.97L467.45 125.97M467.45 123.09L467.45 125.97M462.2 120.22L472.7 120.22M467.45 124.53L472.7 124.53M472.7 120.22L472.7 124.53M472.7 113.05L477.95 113.05M472.7 122.38L477.95 122.38M477.95 113.05L477.95 122.38M472.7 101.57L488.45 101.57M477.95 117.71L488.45 117.71M488.45 101.57L488.45 117.71M483.2 81.66L493.7 81.66M488.45 109.64L493.7 109.64M493.7 81.66L493.7 109.64M462.2 128.84L472.7 128.84M462.2 131.71L472.7 131.71M472.7 128.84L472.7 131.71M462.2 137.44L467.45 137.44M462.2 140.31L467.45 140.31M467.45 137.44L467.45 140.31M462.2 134.57L472.7 134.57M467.45 138.88L472.7 138.88M472.7 134.57L472.7 138.88M472.7 130.27L477.95 130.27M472.7 136.73L477.95 136.73M477.95 130.27L477.95 136.73M462.2 143.19L472.7 143.19M462.2 146.06L472.7 146.06M472.7 143.19L472.7 146.06M462.2 151.8L467.45 151.8M462.2 154.67L467.45 154.67M467.45 151.8L467.45 154.67M462.2 148.93L477.95 148.93M467.45 153.23L477.95 153.23M477.95 148.93L477.95 153.23M472.7 144.62L488.45 144.62M477.95 151.08L488.45 151.08M488.45 144.62L488.45 151.08M477.95 133.5L493.7 133.5M488.45 147.85L493.7 147.85M493.7 133.5L493.7 147.85M462.2 157.53L472.7 157.53M462.2 160.41L472.7 160.41M472.7 157.53L472.7 160.41M472.7 158.97L477.95 158.97M462.2 163.28L477.95 163.28M477.95 158.97L477.95 163.28M462.2 166.15L467.45 166.15M462.2 169.01L467.45 169.01M467.45 166.15L467.45 169.01M462.2 171.88L467.45 171.88M462.2 174.75L467.45 174.75M467.45 171.88L467.45 174.75M467.45 167.58L472.7 167.58M467.45 173.32L472.7 173.32M472.7 167.58L472.7 173.32M462.2 180.5L467.45 180.5M462.2 183.37L467.45 183.37M467.45 180.5L467.45 183.37M462.2 177.62L472.7 177.62M467.45 181.93L472.7 181.93M472.7 177.62L472.7 181.93M472.7 170.45L477.95 170.45M472.7 179.78L477.95 179.78M477.95 170.45L477.95 179.78M477.95 161.12L483.2 161.12M477.95 175.11L483.2 175.11M483.2 161.12L483.2 175.11M462.2 186.24L472.7 186.24M462.2 189.11L472.7 189.11M472.7 186.24L472.7 189.11M462.2 191.98L472.7 191.98M462.2 194.84L472.7 194.84M472.7 191.98L472.7 194.84M472.7 187.67L477.95 187.67M472.7 193.41L477.95 193.41M477.95 187.67L477.95 193.41M462.2 197.72L467.45 197.72M462.2 200.59L467.45 200.59M467.45 197.72L467.45 200.59M467.45 199.15L472.7 199.15M462.2 203.46L472.7 203.46M472.7 199.15L472.7 203.46M477.95 190.54L488.45 190.54M472.7 201.3L488.45 201.3M488.45 190.54L488.45 201.3M483.2 168.12L498.95 168.12M488.45 195.92L498.95 195.92M498.95 168.12L498.95 195.92M462.2 206.33L467.45 206.33M462.2 209.19L467.45 209.19M467.45 206.33L467.45 209.19M462.2 212.06L467.45 212.06M462.2 214.94L467.45 214.94M467.45 212.06L467.45 214.94M467.45 207.76L472.7 207.76M467.45 213.5L472.7 213.5M472.7 207.76L472.7 213.5M462.2 217.81L472.7 217.81M462.2 220.68L472.7 220.68M472.7 217.81L472.7 220.68M472.7 210.63L477.95 210.63M472.7 219.24L477.95 219.24M477.95 210.63L477.95 219.24M462.2 223.55L477.95 223.55M462.2 226.41L477.95 226.41M477.95 223.55L477.95 226.41M462.2 232.16L467.45 232.16M462.2 235.03L467.45 235.03M467.45 232.16L467.45 235.03M462.2 229.28L472.7 229.28M467.45 233.59L472.7 233.59M472.7 229.28L472.7 233.59M477.95 224.98L483.2 224.98M472.7 231.44L483.2 231.44M483.2 224.98L483.2 231.44M477.95 214.94L493.7 214.94M483.2 228.21L493.7 228.21M493.7 214.94L493.7 228.21M462.2 240.77L467.45 240.77M462.2 243.64L467.45 243.64M467.45 240.77L467.45 243.64M462.2 237.9L472.7 237.9M467.45 242.2L472.7 242.2M472.7 237.9L472.7 242.2M472.7 240.05L477.95 240.05M462.2 246.5L477.95 246.5M477.95 240.05L477.95 246.5M462.2 249.38L467.45 249.38M462.2 252.25L467.45 252.25M467.45 249.38L467.45 252.25M467.45 250.81L472.7 250.81M462.2 255.12L472.7 255.12M472.7 250.81L472.7 255.12M462.2 257.99L472.7 257.99M462.2 260.86L472.7 260.86M472.7 257.99L472.7 260.86M472.7 252.96L477.95 252.96M472.7 259.42L477.95 259.42M477.95 252.96L477.95 259.42M462.2 263.73L467.45 263.73M462.2 266.6L467.45 266.6M467.45 263.73L467.45 266.6M477.95 256.19L483.2 256.19M467.45 265.16L483.2 265.16M483.2 256.19L483.2 265.16M477.95 243.28L493.7 243.28M483.2 260.68L493.7 260.68M493.7 243.28L493.7 260.68M493.7 221.57L498.95 221.57M493.7 251.98L498.95 251.98M498.95 221.57L498.95 251.98M498.95 182.02L504.2 182.02M498.95 236.77L504.2 236.77M504.2 182.02L504.2 236.77M493.7 140.67L509.45 140.67M504.2 209.4L509.45 209.4M509.45 140.67L509.45 209.4M493.7 95.65L514.7 95.65M509.45 175.04L514.7 175.04M514.7 95.65L514.7 175.04M462.2 272.34L467.45 272.34M462.2 275.21L467.45 275.21M467.45 272.34L467.45 275.21M462.2 269.47L472.7 269.47M467.45 273.77L472.7 273.77M472.7 269.47L472.7 273.77M462.2 278.08L467.45 278.08M462.2 280.95L467.45 280.95M467.45 278.08L467.45 280.95M462.2 283.81L467.45 283.81M462.2 286.69L467.45 286.69M467.45 283.81L467.45 286.69M467.45 279.51L472.7 279.51M467.45 285.25L472.7 285.25M472.7 279.51L472.7 285.25M472.7 271.62L477.95 271.62M472.7 282.38L477.95 282.38M477.95 271.62L477.95 282.38M462.2 289.56L467.45 289.56M462.2 292.43L467.45 292.43M467.45 289.56L467.45 292.43M462.2 295.3L467.45 295.3M462.2 298.17L467.45 298.17M467.45 295.3L467.45 298.17M467.45 290.99L472.7 290.99M467.45 296.73L472.7 296.73M472.7 290.99L472.7 296.73M462.2 301.03L467.45 301.03M462.2 303.9L467.45 303.9M467.45 301.03L467.45 303.9M462.2 306.77L467.45 306.77M462.2 309.64L467.45 309.64M467.45 306.77L467.45 309.64M467.45 302.47L472.7 302.47M467.45 308.21L472.7 308.21M472.7 302.47L472.7 308.21M472.7 293.86L477.95 293.86M472.7 305.34L477.95 305.34M477.95 293.86L477.95 305.34M462.2 312.51L467.45 312.51M462.2 315.38L467.45 315.38M467.45 312.51L467.45 315.38M462.2 318.25L467.45 318.25M462.2 321.12L467.45 321.12M467.45 318.25L467.45 321.12M467.45 313.95L472.7 313.95M467.45 319.69L472.7 319.69M472.7 313.95L472.7 319.69M477.95 299.6L493.7 299.6M472.7 316.82L493.7 316.82M493.7 299.6L493.7 316.82M477.95 277L498.95 277M493.7 308.21L498.95 308.21M498.95 277L498.95 308.21M462.2 326.87L467.45 326.87M462.2 329.74L467.45 329.74M467.45 326.87L467.45 329.74M462.2 324L472.7 324M467.45 328.3L472.7 328.3M472.7 324L472.7 328.3M462.2 332.61L472.7 332.61M462.2 335.48L472.7 335.48M472.7 332.61L472.7 335.48M472.7 326.15L477.95 326.15M472.7 334.04L477.95 334.04M477.95 326.15L477.95 334.04M462.2 338.35L472.7 338.35M462.2 341.22L472.7 341.22M472.7 338.35L472.7 341.22M462.2 346.95L467.45 346.95M462.2 349.82L467.45 349.82M467.45 346.95L467.45 349.82M462.2 344.09L472.7 344.09M467.45 348.39L472.7 348.39M472.7 344.09L472.7 348.39M472.7 339.78L477.95 339.78M472.7 346.24L477.95 346.24M477.95 339.78L477.95 346.24M477.95 330.09L498.95 330.09M477.95 343.01L498.95 343.01M498.95 330.09L498.95 343.01M462.2 352.69L472.7 352.69M462.2 355.56L472.7 355.56M472.7 352.69L472.7 355.56M462.2 358.44L467.45 358.44M462.2 361.31L467.45 361.31M467.45 358.44L467.45 361.31M472.7 354.13L477.95 354.13M467.45 359.87L477.95 359.87M477.95 354.13L477.95 359.87M462.2 364.18L467.45 364.18M462.2 367.05L467.45 367.05M467.45 364.18L467.45 367.05M462.2 369.92L467.45 369.92M462.2 372.79L467.45 372.79M467.45 369.92L467.45 372.79M467.45 365.61L472.7 365.61M467.45 371.35L472.7 371.35M472.7 365.61L472.7 371.35M462.2 375.66L467.45 375.66M462.2 378.53L467.45 378.53M467.45 375.66L467.45 378.53M462.2 381.4L467.45 381.4M462.2 384.26L467.45 384.26M467.45 381.4L467.45 384.26M467.45 377.09L472.7 377.09M467.45 382.83L472.7 382.83M472.7 377.09L472.7 382.83M472.7 368.48L477.95 368.48M472.7 379.96L477.95 379.96M477.95 368.48L477.95 379.96M477.95 357L498.95 357M477.95 374.22L498.95 374.22M498.95 357L498.95 374.22M462.2 387.13L477.95 387.13M462.2 390L477.95 390M477.95 387.13L477.95 390M462.2 392.88L472.7 392.88M462.2 395.75L472.7 395.75M472.7 392.88L472.7 395.75M462.2 398.62L467.45 398.62M462.2 401.49L467.45 401.49M467.45 398.62L467.45 401.49M472.7 394.31L477.95 394.31M467.45 400.05L477.95 400.05M477.95 394.31L477.95 400.05M477.95 388.57L493.7 388.57M477.95 397.18L493.7 397.18M493.7 388.57L493.7 397.18M462.2 404.36L467.45 404.36M462.2 407.23L467.45 407.23M467.45 404.36L467.45 407.23M462.2 410.1L467.45 410.1M462.2 412.97L467.45 412.97M467.45 410.1L467.45 412.97M467.45 405.79L472.7 405.79M467.45 411.53L472.7 411.53M472.7 405.79L472.7 411.53M462.2 415.84L467.45 415.84M462.2 418.71L467.45 418.71M467.45 415.84L467.45 418.71M462.2 421.57L467.45 421.57M462.2 424.44L467.45 424.44M467.45 421.57L467.45 424.44M467.45 417.27L472.7 417.27M467.45 423.01L472.7 423.01M472.7 417.27L472.7 423.01M472.7 408.66L477.95 408.66M472.7 420.14L477.95 420.14M477.95 408.66L477.95 420.14M462.2 427.31L467.45 427.31M462.2 430.19L467.45 430.19M467.45 427.31L467.45 430.19M462.2 435.93L467.45 435.93M462.2 438.8L467.45 438.8M467.45 435.93L467.45 438.8M462.2 433.06L472.7 433.06M467.45 437.36L472.7 437.36M472.7 433.06L472.7 437.36M467.45 428.75L483.2 428.75M472.7 435.21L483.2 435.21M483.2 428.75L483.2 435.21M477.95 414.4L493.7 414.4M483.2 431.98L493.7 431.98M493.7 414.4L493.7 431.98M462.2 441.67L472.7 441.67M462.2 444.54L472.7 444.54M472.7 441.67L472.7 444.54M462.2 447.41L467.45 447.41M462.2 450.28L467.45 450.28M467.45 447.41L467.45 450.28M467.45 448.84L472.7 448.84M462.2 453.15L472.7 453.15M472.7 448.84L472.7 453.15M472.7 443.1L477.95 443.1M472.7 450.99L477.95 450.99M477.95 443.1L477.95 450.99M462.2 458.88L467.45 458.88M462.2 461.75L467.45 461.75M467.45 458.88L467.45 461.75M462.2 456.01L472.7 456.01M467.45 460.32L472.7 460.32M472.7 456.01L472.7 460.32M477.95 447.05L488.45 447.05M472.7 458.17L488.45 458.17M488.45 447.05L488.45 458.17M462.2 464.62L467.45 464.62M462.2 467.5L467.45 467.5M467.45 464.62L467.45 467.5M462.2 470.37L467.45 470.37M462.2 473.24L467.45 473.24M467.45 470.37L467.45 473.24M467.45 466.06L472.7 466.06M467.45 471.8L472.7 471.8M472.7 466.06L472.7 471.8M462.2 478.98L467.45 478.98M462.2 481.85L467.45 481.85M467.45 478.98L467.45 481.85M462.2 476.11L472.7 476.11M467.45 480.41L472.7 480.41M472.7 476.11L472.7 480.41M472.7 468.93L477.95 468.93M472.7 478.26L477.95 478.26M477.95 468.93L477.95 478.26M462.2 484.72L467.45 484.72M462.2 487.59L467.45 487.59M467.45 484.72L467.45 487.59M467.45 486.15L472.7 486.15M462.2 490.46L472.7 490.46M472.7 486.15L472.7 490.46M462.2 496.19L467.45 496.19M462.2 499.06L467.45 499.06M467.45 496.19L467.45 499.06M462.2 493.32L472.7 493.32M467.45 497.63L472.7 497.63M472.7 493.32L472.7 497.63M472.7 488.3L477.95 488.3M472.7 495.48L477.95 495.48M477.95 488.3L477.95 495.48M477.95 473.59L488.45 473.59M477.95 491.89L488.45 491.89M488.45 473.59L488.45 491.89M498.95 336.55L504.2 336.55M498.95 365.61L504.2 365.61M504.2 336.55L504.2 365.61M493.7 392.88L498.95 392.88M493.7 423.19L498.95 423.19M498.95 392.88L498.95 423.19M504.2 351.08L509.45 351.08M498.95 408.03L509.45 408.03M509.45 351.08L509.45 408.03M488.45 452.61L493.7 452.61M488.45 482.74L493.7 482.74M493.7 452.61L493.7 482.74M509.45 379.56L514.7 379.56M493.7 467.67L514.7 467.67M514.7 379.56L514.7 467.67M498.95 292.6L519.95 292.6M514.7 423.62L519.95 423.62M519.95 292.6L519.95 423.62M514.7 135.34L525.2 135.34M519.95 358.11L525.2 358.11M525.2 135.34L525.2 358.11M525.2 246.73L530.2 246.73" fill="none" stroke="#3a3a3a" stroke-width="0.75" stroke-linecap="square"/>
</svg></body></html>
